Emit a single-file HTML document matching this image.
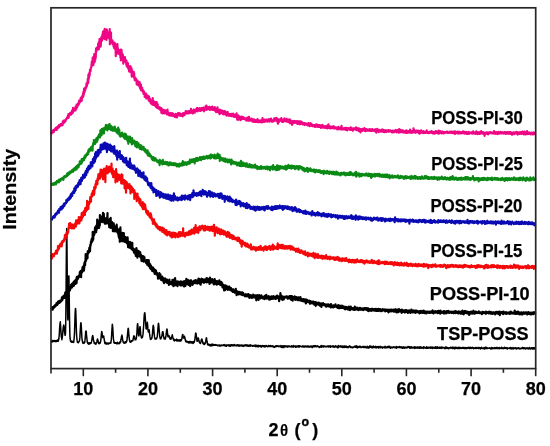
<!DOCTYPE html>
<html><head><meta charset="utf-8"><style>
html,body{margin:0;padding:0;background:#fff;width:550px;height:446px;overflow:hidden}
svg{display:block}
text{font-family:"Liberation Sans",Arial,sans-serif;font-weight:bold;fill:#000}
</style></head><body>
<svg width="550" height="446" viewBox="0 0 550 446">
<rect x="0" y="0" width="550" height="446" fill="#fff"/>
<g transform="scale(0.1)">
<path fill="none" stroke="#000" stroke-width="15" stroke-linejoin="round" d="M513,3416l2,-5 2,0 2,11 2,-11 2,7 2,-12 2,10 2,-7 2,1 2,3 2,-7 2,5 2,-2 2,5 2,-7 2,7 2,-8 2,0 2,5 2,-4 2,1 2,9 2,-10 2,-2 2,3 2,7 2,-10 2,6 2,-8 2,9 2,-13 2,3 2,-1 2,12 2,-3 2,-6 2,-10 2,-9 2,-20 2,-25 2,-36 2,-28 2,-26 2,-20 2,-12 2,27 2,30 2,31 2,28 2,32 2,7 2,12 2,12 2,-15 2,-10 2,-19 2,-18 2,-23 2,-26 2,-17 2,-10 2,-8 2,8 2,11 2,19 2,26 2,15 2,8 2,15 2,0 2,-31 2,-82 2,-148 2,-210 2,-272 2,-224 2,-100 2,94 2,227 2,257 2,206 2,118 2,11 2,-60 2,-132 2,-149 2,-99 2,1 2,112 2,150 2,148 2,107 2,78 2,32 2,8 2,15 2,5 2,-3 2,6 2,-8 2,12 2,-2 2,-1 2,1 2,-5 2,7 2,-4 2,-4 2,1 2,-1 2,-1 2,11 2,-23 2,-9 2,-32 2,-26 2,-64 2,-60 2,-69 2,-36 2,-21 2,12 2,51 2,60 2,68 2,53 2,34 2,23 2,19 2,12 2,5 2,-1 2,5 2,-5 2,8 2,-4 2,-4 2,-2 2,-1 2,-6 2,-4 2,-17 2,-16 2,-43 2,-30 2,-31 2,-34 2,-9 2,10 2,26 2,42 2,30 2,39 2,21 2,14 2,3 2,19 2,-4 2,0 2,-1 2,4 2,1 2,3 2,-2 2,-6 2,-9 2,7 2,-15 2,-19 2,-23 2,-25 2,-27 2,-5 2,0 2,10 2,29 2,19 2,18 2,17 2,21 2,-4 2,12 2,4 2,1 2,-6 2,-1 2,12 2,-14 2,8 2,1 2,1 2,2 2,-13 2,7 2,1 2,-1 2,-1 2,-3 2,2 2,-6 2,-7 2,-13 2,-6 2,-21 2,-12 2,-3 2,-9 2,8 2,3 2,20 2,17 2,5 2,8 2,9 2,9 2,-1 2,1 2,3 2,-6 2,4 2,-2 2,-3 2,13 2,-7 2,-11 2,4 2,-5 2,-7 2,-15 2,-6 2,-6 2,5 2,9 2,3 2,16 2,1 2,12 2,-1 2,-7 2,9 2,-3 2,-8 2,2 2,3 2,-3 2,-10 2,-10 2,-11 2,-21 2,-27 2,-17 2,-16 2,4 2,11 2,25 2,6 2,11 2,4 2,-8 2,-10 2,0 2,0 2,18 2,7 2,18 2,6 2,19 2,6 2,4 2,-6 2,-6 2,1 2,8 2,4 2,-4 2,5 2,-8 2,7 2,1 2,-4 2,-2 2,3 2,-4 2,-2 2,11 2,-3 2,0 2,-3 2,-3 2,1 2,1 2,-1 2,-4 2,2 2,2 2,-2 2,-10 2,8 2,-19 2,-11 2,-25 2,-34 2,-40 2,-25 2,-32 2,9 2,23 2,23 2,44 2,28 2,24 2,9 2,24 2,-3 2,5 2,1 2,-5 2,7 2,-4 2,2 2,3 2,-6 2,3 2,-1 2,3 2,-1 2,6 2,-8 2,-4 2,-2 2,3 2,5 2,6 2,-8 2,1 2,-1 2,3 2,2 2,-3 2,1 2,4 2,-17 2,13 2,-9 2,-2 2,0 2,-5 2,-23 2,2 2,-15 2,-16 2,-6 2,-8 2,13 2,6 2,16 2,20 2,2 2,14 2,1 2,0 2,6 2,-5 2,2 2,8 2,-8 2,2 2,-3 2,3 2,-8 2,-3 2,14 2,-7 2,0 2,-2 2,-4 2,-6 2,-5 2,-17 2,-17 2,-25 2,-21 2,-18 2,-23 2,-1 2,13 2,27 2,33 2,15 2,14 2,16 2,6 2,8 2,0 2,5 2,-5 2,5 2,-5 2,-5 2,-2 2,9 2,-6 2,0 2,-6 2,2 2,0 2,0 2,-1 2,-12 2,-7 2,-14 2,-13 2,-3 2,2 2,2 2,7 2,12 2,11 2,7 2,-4 2,2 2,-2 2,2 2,-11 2,-1 2,-18 2,-15 2,-22 2,-38 2,-32 2,-22 2,-1 2,24 2,26 2,33 2,25 2,13 2,1 2,-8 2,-12 2,-29 2,-25 2,-17 2,-1 2,21 2,22 2,31 2,16 2,3 2,14 2,5 2,0 2,-5 2,2 2,-3 2,-2 2,-13 2,-9 2,-18 2,-29 2,-27 2,-28 2,-34 2,-37 2,-27 2,-16 2,-5 2,2 2,23 2,31 2,25 2,30 2,23 2,26 2,2 2,-15 2,-8 2,-24 2,-7 2,-13 2,15 2,20 2,31 2,14 2,16 2,0 2,-10 2,-2 2,-10 2,16 2,20 2,13 2,16 2,12 2,10 2,10 2,-6 2,5 2,-6 2,1 2,0 2,-10 2,4 2,-17 2,-17 2,-10 2,-40 2,-12 2,-28 2,-4 2,9 2,10 2,31 2,24 2,18 2,23 2,9 2,3 2,9 2,-5 2,3 2,3 2,-7 2,6 2,0 2,-5 2,1 2,-11 2,-1 2,-8 2,-28 2,-18 2,-35 2,-17 2,-28 2,-7 2,11 2,19 2,30 2,23 2,24 2,21 2,10 2,8 2,10 2,-5 2,1 2,3 2,-6 2,-4 2,-9 2,-7 2,-2 2,-15 2,-12 2,-15 2,3 2,-4 2,9 2,12 2,23 2,9 2,9 2,5 2,6 2,-9 2,6 2,-6 2,-3 2,12 2,-9 2,-9 2,-7 2,-16 2,-17 2,-21 2,-13 2,-9 2,7 2,7 2,29 2,16 2,17 2,2 2,0 2,1 2,-4 2,-9 2,9 2,5 2,-2 2,15 2,1 2,8 2,-1 2,-9 2,8 2,4 2,-9 2,3 2,-9 2,-8 2,-11 2,4 2,-15 2,16 2,3 2,13 2,3 2,6 2,9 2,-6 2,12 2,-7 2,-4 2,16 2,-14 2,8 2,-3 2,1 2,2 2,-2 2,0 2,1 2,4 2,-8 2,-7 2,12 2,7 2,-4 2,-9 2,4 2,5 2,-8 2,1 2,3 2,8 2,-5 2,-2 2,-2 2,8 2,0 2,1 2,-9 2,-5 2,1 2,13 2,-2 2,-1 2,-4 2,-4 2,-4 2,-12 2,-13 2,-14 2,-6 2,-4 2,-1 2,12 2,10 2,14 2,-4 2,3 2,-10 2,-4 2,-4 2,8 2,7 2,16 2,-3 2,18 2,8 2,-11 2,13 2,-5 2,-3 2,11 2,-8 2,8 2,-4 2,2 2,2 2,-2 2,4 2,-4 2,10 2,-12 2,4 2,-1 2,0 2,-6 2,16 2,-9 2,1 2,2 2,-8 2,7 2,-3 2,5 2,-8 2,14 2,-7 2,-3 2,2 2,-2 2,4 2,-8 2,17 2,-16 2,2 2,11 2,-15 2,8 2,-11 2,8 2,-13 2,-3 2,-12 2,-20 2,-14 2,-19 2,-9 2,2 2,4 2,22 2,8 2,25 2,8 2,13 2,-3 2,-9 2,-3 2,-8 2,-11 2,1 2,6 2,11 2,11 2,8 2,5 2,2 2,5 2,3 2,-1 2,-6 2,11 2,-12 2,-3 2,-6 2,-16 2,0 2,-7 2,-1 2,8 2,12 2,6 2,1 2,16 2,2 2,-5 2,10 2,-6 2,2 2,-5 2,15 2,-9 2,-2 2,5 2,-5 2,-5 2,-7 2,-6 2,-16 2,-10 2,-13 2,1 2,15 2,16 2,2 2,18 2,11 2,3 2,5 2,1 2,-8 2,-1 2,8 2,0 2,3 2,-8 2,8 2,-1 2,-4 2,13 2,-15 2,9 2,-3 2,7 2,1 2,-6 2,-7 2,8 2,-4 2,-9 2,12 2,3 2,-9 2,-3 2,7 2,-1 2,0 2,4 2,-10 2,4 2,-1 2,0 2,5 2,-3 2,2 2,0 2,1 2,-6 2,5 2,-1 2,2 2,-3 2,3 2,-2 2,4 2,0 2,-3 2,6 2,-5 2,0 2,0 2,0 2,0 2,2 2,-3 2,9 2,-3 2,2 2,-9 2,2 2,9 2,-1 2,-6 2,0 2,-2 2,1 2,4 2,-8 2,1 2,5 2,-2 2,2 2,-1 2,2 2,-1 2,-6 2,6 2,-8 2,4 2,-1 2,-4 2,12 2,-3 2,-2 2,3 2,-1 2,-2 2,-3 2,12 2,-6 2,-5 2,12 2,-14 2,3 2,3 2,-2 2,-2 2,-1 2,2 2,1 2,-1 2,-1 2,-2 2,-2 2,15 2,-5 2,-6 2,8 2,-10 2,8 2,-6 2,12 2,-13 2,5 2,-7 2,7 2,-1 2,-5 2,6 2,-8 2,3 2,7 2,-1 2,-5 2,0 2,2 2,-3 2,1 2,8 2,-1 2,-12 2,6 2,-1 2,2 2,-1 2,3 2,-2 2,3 2,-7 2,4 2,-1 2,-1 2,2 2,7 2,-8 2,0 2,-4 2,-1 2,6 2,5 2,-2 2,-6 2,7 2,2 2,2 2,-3 2,-5 2,-2 2,5 2,3 2,-4 2,-2 2,5 2,-7 2,7 2,-2 2,0 2,-5 2,8 2,3 2,-9 2,6 2,-4 2,-2 2,4 2,7 2,-9 2,3 2,-5 2,-2 2,3 2,5 2,-1 2,-1 2,-2 2,3 2,-10 2,6 2,-4 2,6 2,3 2,-9 2,8 2,-2 2,0 2,4 2,-9 2,7 2,-2 2,-5 2,12 2,-2 2,-3 2,-1 2,-1 2,3 2,-8 2,4 2,7 2,-3 2,-8 2,-3 2,11 2,-2 2,-2 2,1 2,-3 2,4 2,-2 2,3 2,3 2,-3 2,-3 2,7 2,-2 2,2 2,-1 2,-4 2,-4 2,6 2,2 2,-1 2,-8 2,10 2,-11 2,6 2,5 2,4 2,-3 2,-10 2,13 2,-6 2,5 2,-11 2,6 2,0 2,4 2,-9 2,12 2,-8 2,-3 2,-1 2,12 2,-11 2,1 2,4 2,1 2,-5 2,3 2,-5 2,11 2,-8 2,9 2,-9 2,11 2,-10 2,12 2,-14 2,8 2,0 2,-5 2,0 2,-5 2,2 2,5 2,-3 2,4 2,3 2,-4 2,-4 2,6 2,-7 2,12 2,-7 2,3 2,-2 2,4 2,-5 2,-6 2,10 2,-6 2,-2 2,-3 2,6 2,2 2,3 2,-3 2,1 2,-2 2,4 2,-2 2,-8 2,5 2,-1 2,2 2,-4 2,4 2,-4 2,7 2,-1 2,1 2,-7 2,-2 2,7 2,-4 2,6 2,-2 2,0 2,-1 2,-3 2,2 2,5 2,-4 2,-3 2,0 2,3 2,6 2,-5 2,3 2,2 2,6 2,-5 2,-3 2,2 2,-3 2,4 2,-1 2,-4 2,-7 2,5 2,-5 2,6 2,2 2,0 2,-2 2,-6 2,6 2,-3 2,0 2,1 2,4 2,-2 2,3 2,-4 2,-1 2,1 2,-1 2,5 2,0 2,0 2,-4 2,0 2,3 2,-10 2,17 2,-6 2,0 2,-2 2,10 2,-11 2,-4 2,6 2,3 2,7 2,-11 2,-5 2,3 2,-1 2,4 2,9 2,-10 2,3 2,-6 2,-4 2,5 2,1 2,0 2,-3 2,8 2,-3 2,-5 2,1 2,1 2,5 2,-3 2,0 2,-4 2,6 2,5 2,-8 2,-2 2,0 2,4 2,-2 2,0 2,4 2,-7 2,5 2,-2 2,5 2,-4 2,0 2,1 2,-1 2,2 2,-6 2,-2 2,11 2,-5 2,4 2,-1 2,-4 2,-1 2,7 2,2 2,-17 2,11 2,1 2,-5 2,3 2,0 2,1 2,-1 2,3 2,-9 2,11 2,-3 2,7 2,-6 2,0 2,-4 2,4 2,2 2,-10 2,3 2,-1 2,3 2,1 2,0 2,-4 2,10 2,-13 2,4 2,-3 2,-1 2,12 2,-11 2,-1 2,3 2,4 2,-4 2,3 2,-1 2,0 2,0 2,1 2,0 2,4 2,1 2,-4 2,-1 2,-4 2,7 2,-2 2,4 2,-4 2,-4 2,-1 2,1 2,10 2,-9 2,2 2,6 2,-11 2,7 2,-5 2,4 2,2 2,-4 2,2 2,-1 2,-3 2,5 2,-2 2,6 2,-10 2,8 2,-5 2,-2 2,0 2,5 2,-2 2,-2 2,10 2,-7 2,4 2,-3 2,3 2,-2 2,-2 2,-4 2,5 2,-3 2,6 2,-8 2,1 2,6 2,-3 2,-2 2,13 2,-13 2,2 2,9 2,-15 2,4 2,1 2,-6 2,1 2,6 2,0 2,-2 2,5 2,-3 2,-4 2,-5 2,9 2,-1 2,-6 2,9 2,-4 2,0 2,-1 2,4 2,-7 2,6 2,-7 2,6 2,1 2,1 2,1 2,-2 2,2 2,-1 2,-2 2,0 2,11 2,-6 2,0 2,0 2,-4 2,5 2,-3 2,-6 2,6 2,-11 2,17 2,-11 2,4 2,-8 2,1 2,2 2,7 2,-3 2,-6 2,3 2,7 2,-10 2,3 2,7 2,-8 2,2 2,1 2,0 2,-2 2,6 2,0 2,-2 2,-2 2,2 2,-1 2,3 2,-4 2,0 2,-2 2,4 2,-1 2,-4 2,3 2,-4 2,8 2,2 2,-10 2,6 2,0 2,-1 2,-6 2,1 2,4 2,-2 2,-4 2,15 2,-12 2,0 2,3 2,0 2,0 2,-2 2,5 2,-2 2,-1 2,-4 2,6 2,-1 2,-6 2,11 2,-6 2,-4 2,6 2,3 2,-3 2,6 2,-1 2,-1 2,-8 2,3 2,0 2,-7 2,9 2,-5 2,1 2,6 2,-1 2,-5 2,1 2,7 2,-6 2,9 2,-7 2,13 2,-12 2,-13 2,7 2,9 2,-8 2,0 2,4 2,0 2,-1 2,-4 2,-3 2,10 2,-9 2,4 2,2 2,-7 2,2 2,9 2,1 2,-4 2,2 2,-6 2,12 2,-14 2,1 2,5 2,1 2,1 2,-4 2,11 2,-17 2,8 2,-1 2,5 2,-11 2,3 2,9 2,-6 2,-2 2,2 2,2 2,-3 2,-3 2,12 2,-1 2,-1 2,-4 2,2 2,-3 2,0 2,11 2,-8 2,-2 2,-1 2,-5 2,5 2,-7 2,9 2,-3 2,-6 2,10 2,-1 2,0 2,-1 2,6 2,-6 2,3 2,3 2,-1 2,2 2,-1 2,2 2,-5 2,1 2,4 2,-1 2,-5 2,-1 2,3 2,-1 2,-2 2,-5 2,4 2,2 2,0 2,2 2,-11 2,12 2,-5 2,5 2,-3 2,-3 2,0 2,-10 2,10 2,12 2,-8 2,1 2,3 2,2 2,-13 2,7 2,-3 2,-1 2,5 2,-4 2,0 2,0 2,4 2,-12 2,9 2,-2 2,1 2,0 2,8 2,1 2,-6 2,0 2,-1 2,1 2,1 2,-3 2,1 2,3 2,0 2,-10 2,7 2,5 2,-3 2,-4 2,1 2,6 2,-2 2,-7 2,-2 2,0 2,3 2,1 2,8 2,2 2,-6 2,3 2,-5 2,8 2,-8 2,-7 2,8 2,-5 2,9 2,-2 2,9 2,-12 2,7 2,-7 2,4 2,-3 2,6 2,-12 2,9 2,-17 2,6 2,8 2,2 2,-8 2,2 2,-1 2,8 2,-10 2,2 2,10 2,3 2,-10 2,4 2,-4 2,8 2,-8 2,-9 2,14 2,-1 2,-5 2,7 2,-3 2,2 2,-3 2,-3 2,5 2,-1 2,-1 2,-8 2,9 2,9 2,-6 2,2 2,-6 2,-3 2,4 2,0 2,-4 2,4 2,-6 2,-1 2,15 2,-3 2,-10 2,9 2,2 2,-6 2,0 2,0 2,-2 2,-7 2,11 2,-2 2,6 2,-9 2,5 2,-4 2,5 2,-1 2,-3 2,3 2,-3 2,9 2,-9 2,0 2,0 2,1 2,1 2,3 2,0 2,-7 2,2 2,1 2,3 2,4 2,-17 2,7 2,4 2,0 2,-3 2,7 2,0 2,-4 2,5 2,-6 2,-3 2,8 2,-9 2,0 2,1 2,2 2,-9 2,9 2,0 2,0 2,5 2,-1 2,0 2,-12 2,11 2,-1 2,3 2,7 2,-10 2,-1 2,-1 2,3 2,3 2,-6 2,3 2,0 2,3 2,-5 2,7 2,-9 2,-2 2,2 2,2 2,-3 2,-1 2,7 2,-5 2,2 2,4 2,-4 2,2 2,-3 2,7 2,0 2,-5 2,3 2,-10 2,16 2,-13 2,-2 2,2 2,2 2,-1 2,6 2,-2 2,-4 2,1 2,3 2,-1 2,2 2,-4 2,-1 2,4 2,-8 2,3 2,7 2,-5 2,0 2,5 2,-9 2,4 2,3 2,-2 2,7 2,-5 2,-4 2,4 2,9 2,-6 2,3 2,-11 2,12 2,-8 2,-2 2,7 2,-8 2,6 2,6 2,-4 2,1 2,-4 2,-3 2,5 2,1 2,-9 2,11 2,-8 2,7 2,-2 2,0 2,-5 2,3 2,-2 2,4 2,-12 2,7 2,-1 2,2 2,1 2,-7 2,-1 2,8 2,-7 2,8 2,7 2,-12 2,2 2,-1 2,6 2,4 2,-9 2,9 2,-14 2,6 2,4 2,0 2,-1 2,4 2,-4 2,4 2,-7 2,7 2,-4 2,0 2,-1 2,-2 2,-3 2,-2 2,16 2,-3 2,-2 2,-10 2,9 2,-1 2,4 2,-8 2,6 2,0 2,-7 2,3 2,4 2,-3 2,-6 2,11 2,1 2,-3 2,0 2,-1 2,-3 2,2 2,-10 2,16 2,-8 2,0 2,3 2,-1 2,2 2,-1 2,-11 2,5 2,10 2,-10 2,5 2,4 2,-1 2,-4 2,4 2,-4 2,1 2,-4 2,-1 2,7 2,-3 2,8 2,-16 2,2 2,9 2,-4 2,2 2,1 2,0 2,-1 2,-2 2,1 2,4 2,4 2,-5 2,-1 2,-10 2,11 2,0 2,2 2,-6 2,8 2,-11 2,2 2,6 2,-4 2,-3 2,3 2,-2 2,5 2,-2 2,-1 2,3 2,-3 2,-5 2,11 2,-4 2,-8 2,13 2,-6 2,-2 2,0 2,2 2,-6 2,0 2,13 2,-9 2,5 2,1 2,-4 2,3 2,-7 2,-1 2,10 2,-1 2,-2 2,-5 2,4 2,5 2,-9 2,1 2,-8 2,8 2,5 2,4 2,-10 2,-1 2,5 2,4 2,-14 2,14 2,-3 2,-3 2,6 2,-7 2,-1 2,7 2,-5 2,2 2,-6 2,11 2,-5 2,-1 2,-3 2,0 2,8 2,-4 2,-2 2,-6 2,5 2,-1 2,10 2,-12 2,4 2,-5 2,9 2,-4 2,1 2,0 2,-1 2,0 2,-1 2,3 2,-2 2,10 2,-5 2,-4 2,3 2,-3 2,9 2,-6 2,6 2,-18 2,16 2,-2 2,-8 2,1 2,3 2,2 2,-1 2,2 2,-7 2,7 2,-1 2,6 2,-7 2,9 2,-4 2,-2 2,-4 2,-1 2,1 2,0 2,3 2,-2 2,1 2,-8 2,9 2,-5 2,4 2,-5 2,2 2,6 2,-7 2,4 2,6 2,-8 2,-8 2,8 2,-1 2,3 2,4 2,-6 2,-2 2,2 2,10 2,-13 2,3 2,-3 2,7 2,-9 2,12 2,-4 2,-3 2,-4 2,5 2,2 2,-3 2,3 2,4 2,-5 2,-4 2,0 2,6 2,2 2,0 2,-11 2,7 2,-1 2,5 2,-8 2,2 2,6 2,-7 2,6 2,-9 2,7 2,-3 2,1 2,5 2,-5 2,3 2,-1 2,-2 2,4 2,-9 2,8 2,0 2,-7 2,3 2,-2 2,7 2,-3 2,-2 2,6 2,-2 2,2 2,-8 2,2 2,3 2,4 2,-7 2,4 2,0 2,4 2,-8 2,5 2,-1 2,-5 2,-2 2,4 2,0 2,0 2,5 2,-5 2,0 2,-5 2,1 2,5 2,0 2,-4 2,9 2,-2 2,-6 2,-5 2,9 2,-7 2,6 2,5 2,-1 2,-5 2,3 2,-3 2,3 2,-9 2,1 2,6 2,0 2,1 2,-4 2,7 2,2 2,-2 2,-2 2,0 2,0 2,-3 2,3 2,-3 2,-3 2,8 2,1 2,-9 2,4 2,4 2,-2 2,1 2,-8 2,3 2,4 2,-3 2,3 2,-2 2,-1 2,1 2,6 2,-8 2,-4 2,10 2,-7 2,4 2,-4 2,5 2,-3 2,-2 2,12 2,-6 2,1 2,-4 2,3 2,-2 2,-8 2,6 2,5 2,-1 2,-1 2,0 2,2 2,-1 2,4 2,-3 2,-7 2,7 2,-3 2,-7 2,6 2,10 2,-7 2,-1 2,-3 2,5 2,-1 2,-13 2,16 2,-3 2,-2 2,-3 2,1 2,7 2,-5 2,0 2,-1 2,4 2,-1 2,-1 2,0 2,1 2,-2 2,0 2,-3 2,2 2,1 2,3 2,-4 2,4 2,0 2,5 2,-4 2,0 2,-2 2,-3 2,-6 2,15 2,-1 2,-10 2,5 2,-1 2,-2 2,5 2,-2 2,2 2,-2 2,-4 2,3 2,-6 2,9 2,0 2,-6 2,5 2,-7 2,1 2,8 2,-9 2,3 2,-1 2,1 2,-4 2,-2 2,13 2,-9 2,7 2,-4 2,-1 2,1 2,2 2,-5 2,8 2,-4 2,5 2,-2 2,-9 2,8 2,-3 2,3 2,-2 2,2 2,-1 2,-3 2,1 2,-4 2,-5 2,14 2,-9 2,5 2,-5 2,2 2,3 2,2 2,-4 2,4 2,3 2,-3 2,-5 2,5 2,-8 2,-2 2,7 2,4 2,-4 2,-2 2,-1 2,2 2,-5 2,9 2,-1 2,1 2,-4 2,0 2,-2 2,3 2,9 2,-5 2,-2 2,-3 2,2 2,0 2,1 2,-1 2,0 2,-2 2,0 2,5 2,-2 2,-7 2,6 2,0 2,5 2,-11 2,15 2,-7 2,-4 2,3 2,-1 2,5 2,-8 2,7 2,2 2,-10 2,-2 2,7 2,0 2,6 2,-3 2,-1 2,-5 2,1 2,2 2,-5 2,5 2,-1 2,2 2,-1 2,-5 2,3 2,-1 2,8 2,3 2,-9 2,-3 2,1 2,0 2,2 2,-1 2,1 2,-1 2,-4 2,4 2,5 2,2 2,1 2,-5 2,0 2,3 2,-5 2,4 2,-1 2,2 2,1 2,-6 2,4 2,-1 2,-2 2,2 2,-5 2,-6 2,5 2,-3 2,7 2,-2 2,6 2,-9 2,6 2,-5 2,4 2,-6 2,5 2,4 2,-3 2,-3 2,4 2,6 2,-2 2,-6 2,-3 2,3 2,2 2,1 2,0 2,-1 2,-2 2,-3 2,-1 2,10 2,-5 2,2 2,5 2,0 2,-5 2,-3 2,-7 2,12 2,-5 2,3 2,-2 2,3 2,4 2,-3 2,-6 2,-2 2,2 2,5 2,-6 2,2 2,3 2,1 2,-8 2,13 2,-12 2,5 2,0 2,-6 2,6 2,-1 2,7 2,-6 2,-5 2,9 2,-8 2,2 2,2"/>
<path fill="none" stroke="#000000" stroke-width="22" stroke-linejoin="round" d="M513,3091l2,3 1,-8 2,-9 1,10 2,-5 2,14 1,-21 2,0 1,21 2,-24 2,10 1,-12 2,5 1,-2 2,8 2,-8 1,-1 2,-1 1,-13 2,4 2,-4 1,10 2,-16 1,-1 2,3 2,-1 1,7 2,-13 1,10 2,-3 2,-7 1,-7 2,-10 1,10 2,7 2,2 1,-5 2,2 1,-15 2,12 2,-7 1,-19 2,8 1,2 2,-2 2,-3 1,0 2,4 1,-13 2,-5 2,21 1,-10 2,-9 1,6 2,-6 2,2 1,8 2,-8 1,-2 2,4 2,-1 1,-12 2,6 1,-7 2,-1 2,-26 1,24 2,6 1,-11 2,-20 2,5 1,13 2,-27 1,7 2,8 2,-13 1,4 2,-11 1,20 2,-12 2,1 1,-7 2,-11 1,2 2,10 2,17 1,-52 2,8 1,4 2,-2 2,9 1,7 2,-15 1,-21 2,10 2,7 1,-21 2,3 1,-12 2,10 2,-2 1,1 2,-7 1,-46 2,40 2,14 1,-17 2,5 1,8 2,-15 2,-3 1,-2 2,8 1,-19 2,17 2,9 1,-33 2,15 1,-17 2,19 2,-17 1,-4 2,-17 1,15 2,-13 2,1 1,-9 2,14 1,-20 2,35 2,-11 1,-7 2,-4 1,10 2,-29 2,13 1,-6 2,11 1,-24 2,-7 2,39 1,-27 2,-17 1,17 2,-5 2,-8 1,-10 2,26 1,-30 2,17 2,19 1,-30 2,-2 1,21 2,-36 2,3 1,21 2,14 1,-54 2,-9 2,30 1,-2 2,-10 1,-16 2,-1 2,20 1,-25 2,4 1,13 2,-11 2,-6 1,-6 2,-1 1,-3 2,14 2,-12 1,6 2,-40 1,23 2,-5 2,11 1,-38 2,32 1,-12 2,26 2,12 1,-43 2,1 1,-23 2,-2 2,2 1,5 2,13 1,-6 2,-45 2,39 1,-17 2,4 1,-22 2,17 2,-12 1,-12 2,-16 1,52 2,-19 2,-14 1,-44 2,18 1,2 2,-31 2,33 1,-27 2,-13 1,-9 2,-61 2,67 1,0 2,-19 1,-20 2,-19 2,40 1,-26 2,1 1,8 2,-5 2,14 1,-48 2,-23 1,4 2,11 2,-16 1,22 2,-24 1,-2 2,12 2,2 1,-27 2,-18 1,14 2,-11 2,4 1,29 2,-43 1,-20 2,7 2,-1 1,-16 2,-23 1,18 2,-24 2,19 1,-33 2,-8 1,28 2,-17 2,-3 1,17 2,-31 1,-62 2,58 2,9 1,11 2,-39 1,-30 2,19 2,0 1,5 2,-12 1,-12 2,10 2,-21 1,6 2,-46 1,32 2,-15 2,-1 1,-5 2,-24 1,56 2,2 2,-27 1,9 2,-50 1,10 2,3 2,3 1,-74 2,89 1,-64 2,40 2,-52 1,21 2,-14 1,26 2,10 2,2 1,-7 2,0 1,33 2,-74 2,14 1,11 2,25 1,-105 2,65 2,-20 1,24 2,-19 1,3 2,-10 2,14 1,-8 2,-33 1,28 2,0 2,11 1,-22 2,37 1,-25 2,-23 2,5 1,28 2,-77 1,87 2,-10 2,7 1,-67 2,-8 1,24 2,30 2,22 1,-15 2,-13 1,50 2,-50 2,12 1,29 2,-28 1,24 2,-24 2,37 1,-43 2,-11 1,51 2,-19 2,-25 1,23 2,-37 1,21 2,32 2,-97 1,102 2,-11 1,2 2,3 2,-32 1,26 2,-20 1,2 2,13 2,20 1,36 2,-75 1,0 2,8 2,12 1,-29 2,18 1,42 2,32 2,-101 1,54 2,11 1,-2 2,16 2,-7 1,3 2,-10 1,2 2,-26 2,38 1,25 2,-21 1,6 2,43 2,-36 1,-5 2,-14 1,45 2,-68 2,27 1,-11 2,41 1,-31 2,54 2,-50 1,14 2,-6 1,27 2,-23 2,35 1,-22 2,-6 1,32 2,-8 2,-31 1,32 2,-44 1,-16 2,61 2,-2 1,-15 2,27 1,-33 2,45 2,-2 1,8 2,-19 1,12 2,-16 2,55 1,-55 2,-16 1,82 2,-51 2,4 1,-23 2,109 1,-91 2,-1 2,44 1,-96 2,74 1,-6 2,15 2,36 1,-39 2,-14 1,23 2,49 2,-48 1,-7 2,5 1,6 2,-40 2,15 1,43 2,-25 1,19 2,32 2,-43 1,35 2,-73 1,38 2,12 2,36 1,-42 2,4 1,15 2,-21 2,-3 1,19 2,32 1,-24 2,10 2,-14 1,-3 2,21 1,-34 2,20 2,5 1,-1 2,30 1,-8 2,-4 2,19 1,-64 2,60 1,-20 2,57 2,-53 1,-5 2,3 1,31 2,12 2,-32 1,-5 2,55 1,-54 2,9 2,30 1,5 2,-34 1,-13 2,59 2,-21 1,0 2,-15 1,23 2,-5 2,9 1,22 2,-28 1,-14 2,38 2,-60 1,65 2,-6 1,14 2,-19 2,12 1,10 2,-14 1,-2 2,20 2,-18 1,36 2,-25 1,3 2,22 2,-19 1,21 2,1 1,-15 2,-9 2,43 1,-54 2,66 1,-46 2,1 2,5 1,-39 2,12 1,13 2,10 2,4 1,7 2,50 1,-30 2,8 2,-38 1,13 2,10 1,-31 2,43 2,6 1,-10 2,-27 1,23 2,-27 2,17 1,29 2,-8 1,0 2,-35 2,13 1,35 2,-24 1,32 2,-14 2,-11 1,1 2,28 1,29 2,-39 2,1 1,9 2,-12 1,5 2,-11 2,11 1,30 2,-2 1,10 2,-11 2,17 1,-53 2,17 1,16 2,-13 2,6 1,-20 2,42 1,-1 2,0 2,-5 1,7 2,-2 1,1 2,11 2,-18 1,14 2,13 1,-7 2,8 2,-31 1,37 2,-6 1,13 2,-44 2,27 1,10 2,-7 1,-2 2,-6 2,19 1,15 2,-33 1,-24 2,34 2,26 1,3 2,0 1,-10 2,-17 2,42 1,-25 2,-6 1,-2 2,23 2,20 1,-17 2,-14 1,6 2,21 2,-6 1,-5 2,23 1,6 2,-28 2,-2 1,39 2,-5 1,1 2,-20 2,-13 1,31 2,-3 1,1 2,1 2,-14 1,14 2,-13 1,35 2,-2 2,13 1,-39 2,30 1,-30 2,36 2,-16 1,6 2,1 1,-22 2,25 2,-3 1,4 2,17 1,0 2,-21 2,14 1,7 2,3 1,-2 2,0 2,15 1,24 2,-28 1,-7 2,5 2,1 1,-4 2,5 1,7 2,-34 2,47 1,4 2,-20 1,14 2,-23 2,10 1,-21 2,30 1,8 2,0 2,19 1,-24 2,-6 1,32 2,-34 2,12 1,-1 2,-14 1,8 2,14 2,-1 1,13 2,4 1,3 2,-17 2,30 1,-35 2,30 1,-28 2,46 2,-24 1,5 2,-8 1,-7 2,-12 2,-1 1,19 2,-10 1,11 2,12 2,-16 1,1 2,-6 1,27 2,-3 2,-14 1,-3 2,-7 1,33 2,-24 2,12 1,-3 2,-10 1,15 2,0 2,-2 1,2 2,-4 1,5 2,30 2,-38 1,13 2,-30 1,37 2,-3 2,-11 1,13 2,3 1,4 2,-14 2,12 1,-11 2,1 1,-5 2,20 2,-11 1,3 2,-6 1,-1 2,3 2,17 1,-47 2,26 1,14 2,3 2,-8 1,-5 2,33 1,-35 2,16 2,5 1,-51 2,32 1,14 2,-7 2,19 1,-7 2,-4 1,-64 2,55 2,8 1,-1 2,-17 1,8 2,1 2,-4 1,12 2,9 1,-17 2,17 2,-38 1,14 2,15 1,20 2,-23 2,8 1,-15 2,11 1,-13 2,6 2,-20 1,29 2,-18 1,7 2,3 2,-6 1,-11 2,16 1,10 2,-22 2,30 1,-16 2,6 1,-20 2,-11 2,9 1,13 2,17 1,-5 2,8 2,-20 1,-7 2,16 1,-3 2,-19 2,15 1,-10 2,13 1,-6 2,-2 2,-18 1,15 2,34 1,-34 2,-2 2,38 1,-13 2,-6 1,-24 2,-10 2,40 1,-15 2,22 1,-24 2,-6 2,1 1,-4 2,17 1,-54 2,43 2,-19 1,22 2,6 1,-33 2,17 2,1 1,5 2,7 1,-40 2,13 2,26 1,-10 2,18 1,4 2,-14 2,-18 1,19 2,11 1,-38 2,26 2,-7 1,6 2,27 1,-57 2,19 2,21 1,-26 2,6 1,-20 2,16 2,12 1,-21 2,19 1,4 2,1 2,7 1,6 2,-21 1,2 2,-3 2,-3 1,2 2,11 1,-3 2,-20 2,-4 1,21 2,-20 1,3 2,17 2,-23 1,20 2,-8 1,-1 2,13 2,-22 1,19 2,-28 1,23 2,-15 2,-2 1,7 2,11 1,1 2,-16 2,24 1,2 2,-15 1,-4 2,-8 2,22 1,-4 2,-20 1,-13 2,-6 2,23 1,8 2,-30 1,30 2,-1 2,11 1,8 2,-14 1,-18 2,21 2,-13 1,-17 2,39 1,12 2,-36 2,-1 1,-3 2,-17 1,-2 2,4 2,16 1,14 2,-2 1,-27 2,-1 2,4 1,16 2,0 1,-2 2,-3 2,9 1,-14 2,3 1,24 2,-26 2,2 1,-6 2,-4 1,12 2,0 2,14 1,-1 2,-5 1,-6 2,10 2,-17 1,20 2,-11 1,-8 2,-21 2,43 1,-20 2,4 1,13 2,0 2,-27 1,-7 2,18 1,-7 2,4 2,-2 1,4 2,6 1,-8 2,7 2,11 1,-2 2,-29 1,50 2,-38 2,3 1,-27 2,31 1,12 2,-15 2,11 1,-10 2,-8 1,29 2,-13 2,6 1,-14 2,-5 1,19 2,-9 2,-21 1,22 2,-11 1,10 2,14 2,-16 1,12 2,5 1,6 2,9 2,3 1,-24 2,9 1,-21 2,14 2,-31 1,20 2,0 1,5 2,1 2,8 1,3 2,-13 1,25 2,-30 2,8 1,-3 2,31 1,-29 2,6 2,14 1,-26 2,11 1,-6 2,25 2,-19 1,13 2,-4 1,6 2,-8 2,7 1,3 2,-3 1,-11 2,-21 2,38 1,-5 2,0 1,0 2,-2 2,8 1,8 2,-9 1,-24 2,20 2,-10 1,16 2,6 1,-28 2,19 2,14 1,-6 2,5 1,-21 2,41 2,-25 1,14 2,-5 1,2 2,6 2,-15 1,1 2,35 1,-24 2,42 2,-27 1,-15 2,-1 1,-5 2,4 2,40 1,-24 2,-23 1,22 2,-13 2,11 1,0 2,-16 1,5 2,-2 2,28 1,-24 2,5 1,-2 2,7 2,1 1,-3 2,25 1,-32 2,12 2,-4 1,19 2,-4 1,-1 2,-10 2,2 1,1 2,-14 1,28 2,-14 2,12 1,-5 2,2 1,12 2,-16 2,-2 1,-4 2,15 1,-13 2,11 2,14 1,-7 2,-2 1,-8 2,5 2,16 1,-9 2,0 1,18 2,-5 2,-10 1,-12 2,0 1,12 2,8 2,-4 1,0 2,11 1,-2 2,-7 2,16 1,-16 2,-1 1,5 2,-4 2,8 1,6 2,-36 1,31 2,1 2,5 1,-9 2,35 1,-34 2,10 2,-9 1,-6 2,21 1,-8 2,-6 2,8 1,-7 2,11 1,1 2,10 2,-9 1,-15 2,20 1,-6 2,4 2,-8 1,-9 2,14 1,8 2,-17 2,-1 1,3 2,5 1,11 2,-16 2,5 1,-3 2,16 1,-5 2,7 2,-19 1,-4 2,23 1,-9 2,14 2,-19 1,11 2,-7 1,-9 2,6 2,5 1,2 2,4 1,5 2,1 2,-2 1,-1 2,7 1,6 2,-14 2,-4 1,6 2,6 1,1 2,-11 2,-1 1,4 2,5 1,10 2,-18 2,12 1,-4 2,7 1,-17 2,11 2,8 1,-1 2,-13 1,5 2,-9 2,10 1,-13 2,26 1,-13 2,4 2,-5 1,5 2,21 1,-29 2,4 2,5 1,-6 2,0 1,13 2,2 2,-17 1,6 2,6 1,9 2,-2 2,-3 1,12 2,-15 1,-2 2,-6 2,13 1,8 2,-12 1,-1 2,4 2,-21 1,21 2,0 1,-2 2,-6 2,9 1,-6 2,-4 1,14 2,-14 2,-5 1,10 2,5 1,-16 2,1 2,4 1,22 2,-6 1,-15 2,5 2,39 1,-28 2,-13 1,5 2,1 2,6 1,-24 2,20 1,-16 2,27 2,-7 1,-5 2,-1 1,-5 2,36 2,-37 1,12 2,-6 1,-16 2,26 2,-2 1,-7 2,-1 1,10 2,-4 2,10 1,-20 2,-4 1,7 2,7 2,-3 1,3 2,-21 1,7 2,10 2,0 1,1 2,0 1,10 2,-5 2,-8 1,0 2,2 1,5 2,9 2,-3 1,-9 2,-2 1,-5 2,2 2,-1 1,25 2,-27 1,8 2,-14 2,8 1,19 2,-4 1,-18 2,17 2,-18 1,21 2,-8 1,-26 2,38 2,-8 1,-1 2,6 1,-10 2,-2 2,-6 1,19 2,-11 1,4 2,0 2,5 1,-4 2,-8 1,-10 2,21 2,-5 1,19 2,-16 1,-8 2,5 2,-5 1,12 2,3 1,6 2,-25 2,18 1,-6 2,1 1,-5 2,-12 2,17 1,-16 2,12 1,-5 2,18 2,-9 1,-7 2,-2 1,-6 2,10 2,1 1,9 2,-8 1,-16 2,24 2,-16 1,14 2,-16 1,6 2,-2 2,0 1,3 2,7 1,-7 2,-5 2,20 1,-25 2,11 1,13 2,-25 2,10 1,6 2,-5 1,3 2,-11 2,7 1,-18 2,15 1,1 2,4 2,-3 1,12 2,-20 1,8 2,10 2,-18 1,20 2,-1 1,27 2,-45 2,15 1,-17 2,4 1,5 2,-14 2,10 1,-38 2,39 1,7 2,-4 2,-9 1,7 2,3 1,21 2,-36 2,15 1,-2 2,-3 1,19 2,-10 2,20 1,-21 2,-4 1,-5 2,1 2,7 1,6 2,13 1,-22 2,-6 2,7 1,-3 2,9 1,0 2,-8 2,4 1,-1 2,0 1,-3 2,-7 2,6 1,-2 2,2 1,-4 2,8 2,-9 1,-1 2,11 1,1 2,1 2,-12 1,20 2,-13 1,9 2,-9 2,3 1,-1 2,9 1,-15 2,2 2,0 1,-8 2,13 1,-3 2,-13 2,2 1,23 2,-5 1,1 2,-8 2,-11 1,12 2,2 1,22 2,-17 2,-13 1,25 2,-31 1,18 2,6 2,-13 1,15 2,-5 1,23 2,-37 2,15 1,-9 2,0 1,5 2,1 2,-11 1,14 2,-9 1,-7 2,-3 2,24 1,-11 2,1 1,5 2,15 2,-30 1,13 2,9 1,-17 2,15 2,-2 1,-4 2,-2 1,0 2,-9 2,7 1,19 2,1 1,2 2,-14 2,1 1,4 2,-4 1,8 2,-6 2,-16 1,28 2,-25 1,14 2,7 2,4 1,-9 2,8 1,-1 2,-13 2,12 1,-29 2,35 1,-16 2,18 2,-11 1,-10 2,4 1,11 2,-2 2,0 1,3 2,8 1,-13 2,9 2,-1 1,-11 2,-2 1,10 2,12 2,-7 1,-16 2,9 1,1 2,0 2,-3 1,9 2,3 1,-10 2,8 2,-14 1,8 2,11 1,13 2,-23 2,32 1,-26 2,6 1,7 2,-25 2,14 1,11 2,-24 1,9 2,0 2,3 1,0 2,3 1,-6 2,6 2,0 1,8 2,-6 1,-5 2,11 2,-10 1,-6 2,16 1,0 2,7 2,9 1,-12 2,8 1,-21 2,23 2,-21 1,6 2,14 1,-12 2,-1 2,5 1,-4 2,0 1,1 2,-7 2,0 1,9 2,0 1,-5 2,15 2,-12 1,-4 2,11 1,-13 2,10 2,-7 1,3 2,23 1,-13 2,-2 2,6 1,-1 2,2 1,-11 2,21 2,-28 1,20 2,18 1,-33 2,15 2,6 1,-12 2,1 1,-9 2,9 2,2 1,-9 2,6 1,2 2,-2 2,9 1,-6 2,1 1,-6 2,1 2,-8 1,15 2,5 1,5 2,-4 2,-5 1,-8 2,23 1,-8 2,-9 2,0 1,5 2,-2 1,3 2,-5 2,-6 1,11 2,24 1,-21 2,-3 2,3 1,-8 2,12 1,-4 2,4 2,-6 1,4 2,-8 1,-10 2,14 2,5 1,-4 2,2 1,0 2,-3 2,-3 1,0 2,4 1,-5 2,5 2,2 1,-3 2,8 1,7 2,-7 2,11 1,-13 2,14 1,-12 2,3 2,-2 1,-9 2,-2 1,13 2,-1 2,-1 1,7 2,-13 1,11 2,-6 2,-11 1,15 2,3 1,2 2,-1 2,-12 1,2 2,8 1,-3 2,8 2,-16 1,19 2,2 1,-13 2,11 2,7 1,-16 2,-3 1,-15 2,12 2,10 1,-10 2,10 1,6 2,2 2,-13 1,1 2,-2 1,8 2,2 2,5 1,-9 2,11 1,-9 2,-11 2,7 1,3 2,5 1,0 2,-13 2,5 1,3 2,-2 1,4 2,1 2,-24 1,24 2,0 1,-1 2,-5 2,7 1,-4 2,1 1,3 2,4 2,-6 1,-7 2,9 1,-7 2,18 2,-10 1,1 2,-5 1,-15 2,31 2,-17 1,0 2,6 1,-1 2,4 2,2 1,3 2,3 1,-26 2,15 2,-2 1,-8 2,20 1,-7 2,-5 2,6 1,3 2,0 1,-2 2,-5 2,2 1,-16 2,22 1,-10 2,10 2,1 1,-3 2,-7 1,-1 2,5 2,-9 1,10 2,5 1,-1 2,1 2,3 1,-13 2,9 1,14 2,-12 2,-8 1,2 2,8 1,4 2,7 2,-24 1,14 2,-3 1,-1 2,-8 2,14 1,1 2,-9 1,3 2,-5 2,4 1,-1 2,1 1,7 2,10 2,-26 1,8 2,5 1,1 2,-17 2,22 1,-8 2,-6 1,9 2,10 2,-7 1,15 2,-28 1,-2 2,11 2,-17 1,20 2,-8 1,-5 2,10 2,1 1,6 2,-3 1,-2 2,-5 2,15 1,-10 2,-1 1,-4 2,9 2,-6 1,11 2,-6 1,-3 2,-3 2,3 1,-1 2,16 1,-21 2,10 2,-6 1,-18 2,12 1,10 2,-2 2,-11 1,9 2,13 1,-8 2,1 2,2 1,-9 2,9 1,1 2,-8 2,-1 1,1 2,-7 1,17 2,2 2,-9 1,3 2,-3 1,2 2,-5 2,17 1,-5 2,-8 1,-1 2,7 2,3 1,-12 2,-7 1,10 2,8 2,-4 1,0 2,3 1,-7 2,-2 2,9 1,2 2,-5 1,-2 2,-4 2,-1 1,5 2,5 1,-3 2,1 2,-3 1,-3 2,-2 1,17 2,-14 2,7 1,-2 2,4 1,-7 2,6 2,-16 1,9 2,2 1,-8 2,1 2,5 1,4 2,-12 1,7 2,0 2,3 1,3 2,1 1,-12 2,16 2,-5 1,-13 2,10 1,10 2,-7 2,-1 1,0 2,-4 1,6 2,-12 2,28 1,-7 2,-15 1,10 2,-5 2,5 1,-9 2,16 1,-15 2,7 2,9 1,-16 2,3 1,5 2,2 2,-7 1,5 2,-3 1,-7 2,11 2,8 1,-15 2,-1 1,11 2,-14 2,4 1,2 2,-5 1,12 2,1 2,-1 1,-3 2,3 1,-9 2,2 2,-4 1,13 2,-7 1,-4 2,7 2,-8 1,15 2,-1 1,-7 2,-4 2,0 1,2 2,11 1,-20 2,8 2,-5 1,17 2,-13 1,3 2,1 2,-9 1,4 2,7 1,8 2,-11 2,8 1,-3 2,-14 1,19 2,-10 2,2 1,5 2,-7 1,0 2,0 2,5 1,-13 2,1 1,11 2,-6 2,15 1,-11 2,6 1,-12 2,9 2,-1 1,-2 2,1 1,0 2,-1 2,-4 1,15 2,-9 1,-1 2,-8 2,9 1,-10 2,7 1,3 2,-3 2,4 1,-2 2,3 1,-6 2,-2 2,3 1,6 2,-1 1,-8 2,5 2,3 1,10 2,-9 1,-8 2,5 2,-3 1,-3 2,9 1,2 2,-8 2,6 1,3 2,-1 1,-4 2,-2 2,1 1,4 2,8 1,-18 2,1 2,10 1,-3 2,19 1,-20 2,-2 2,11 1,2 2,-13 1,-3 2,3 2,6 1,0 2,0 1,-9 2,9 2,-1 1,8 2,-6 1,7 2,-20 2,16 1,0 2,-2 1,0 2,-2 2,-8 1,4 2,6 1,-4 2,1 2,6 1,-1 2,4 1,-4 2,-3 2,-13 1,7 2,9 1,-9 2,7 2,-9 1,14 2,3 1,-10 2,1 2,-14 1,-2 2,22 1,-4 2,-6 2,4 1,-1 2,16 1,-13 2,0 2,-8 1,12 2,-9 1,-8 2,7 2,8 1,-9 2,4 1,15 2,-6 2,-6 1,-5 2,-15 1,20 2,-9 2,13 1,-6 2,-9 1,14 2,0 2,-8 1,9 2,-5 1,4 2,-10 2,7 1,-7 2,-4 1,9 2,20 2,-32 1,11 2,-2 1,2 2,7 2,-3 1,-3 2,3 1,-4 2,12 2,-13 1,8 2,-7 1,7 2,0 2,0 1,-1 2,-4 1,-6 2,23 2,-9 1,-13 2,10 1,-11 2,1 2,3 1,-6 2,3 1,15 2,-11 2,5 1,-10 2,11 1,-8 2,13 2,-13 1,6 2,18 1,-14 2,2 2,-7 1,8 2,-2 1,-5 2,2 2,-1 1,-9 2,9 1,11 2,-16 2,4 1,1 2,2 1,1 2,12 2,-18 1,7 2,-1 1,-1 2,-20 2,26 1,1 2,-3 1,-13 2,8 2,5 1,-2 2,1 1,-1 2,8 2,-21 1,2 2,3 1,8 2,-5 2,-3 1,1 2,7 1,0 2,-5 2,11 1,-16 2,13 1,-8 2,-7 2,16 1,7 2,-19 1,4 2,5 2,-8 1,9 2,-3 1,-9 2,11 2,-3 1,3 2,1 1,0 2,-7 2,8 1,-6 2,3 1,8 2,-4 2,-2 1,-2 2,-2 1,3 2,-6 2,21 1,-17 2,1 1,-4 2,11 2,-4 1,2 2,-5 1,12 2,-20 2,8 1,-1 2,4 1,6 2,-11 2,6 1,-3 2,-1 1,0 2,-7 2,5 1,15 2,-10 1,-5 2,-4 2,5 1,-9 2,13 1,-7 2,4 2,-4 1,1 2,8 1,9 2,-16 2,4 1,2 2,-4 1,-2 2,6 2,-3 1,3 2,10 1,3 2,-8 2,-8 1,-1 2,2 1,2 2,0 2,-2 1,-1 2,0 1,-2 2,4 2,8 1,-8 2,0 1,4 2,1 2,-7 1,5 2,-5 1,10 2,-13 2,8 1,-2 2,8 1,-7 2,1 2,-4 1,6 2,-9 1,2 2,-1 2,7 1,0 2,-5 1,-8 2,18 2,-17 1,-3 2,-4 1,20 2,-6 2,-2 1,5 2,-2 1,14 2,-6 2,-9 1,1 2,4 1,-11 2,8 2,-2 1,-2 2,2 1,7 2,-13 2,9 1,-9 2,7 1,1 2,3 2,-5 1,5 2,-3 1,-4 2,0 2,-1 1,2 2,-6 1,19 2,-15 2,6 1,-6 2,6 1,5 2,-18 2,16 1,-6 2,3 1,3 2,4 2,-14 1,7 2,12 1,-12 2,1 2,14 1,-30 2,20 1,-13 2,2 2,12 1,-3 2,-2 1,3 2,-5 2,0 1,-3 2,8 1,-9 2,8 2,-1 1,-5 2,2 1,-3 2,10 2,5 1,-9 2,-2 1,-10 2,22 2,0 1,-17 2,4 1,12 2,-19 2,3 1,13 2,1 1,-11 2,0 2,4 1,6 2,-7 1,10 2,-6 2,-15 1,9 2,1 1,6 2,-7 2,-8 1,-1 2,4 1,-1 2,10 2,-12 1,-3 2,15 1,-1 2,3 2,0 1,2 2,-13 1,2 2,2 2,6 1,-6 2,3 1,-2 2,2 2,-4 1,4 2,-6 1,-1 2,7 2,5 1,-3 2,1 1,-6 2,9 2,-5 1,-1 2,2 1,-2 2,-6 2,8 1,2 2,2 1,0 2,2 2,-5 1,-1 2,-8 1,6 2,-7 2,7 1,2 2,0 1,-15 2,22 2,-10 1,0 2,-2 1,2 2,8 2,-10 1,-5 2,12 1,-11 2,0 2,7 1,-2 2,3 1,-4 2,6 2,4 1,3 2,-11 1,4 2,8 2,-19 1,-1 2,9 1,1 2,-8 2,10 1,6 2,-6 1,0 2,-2 2,-1 1,9 2,-9 1,-5 2,11 2,9 1,-19 2,5 1,1 2,5 2,-1 1,-3 2,5 1,5 2,-29 2,13 1,11 2,-10 1,8 2,-8 2,3 1,19 2,-19 1,-1 2,2 2,0 1,-3 2,-11 1,20 2,-14 2,9 1,-6 2,-9 1,18 2,-7 2,-4 1,0 2,-3 1,17 2,-1 2,-6 1,7 2,-5 1,-7 2,13 2,-15 1,3 2,2 1,-4 2,1 2,1 1,13 2,-8 1,-6 2,10 2,19 1,-27 2,6 1,3 2,-4 2,-4 1,4 2,10 1,-18 2,5 2,0 1,-3 2,-2 1,2 2,-4 2,18 1,-5 2,-9 1,-1 2,17 2,-1 1,-4 2,-12 1,-1 2,13 2,-9 1,-8 2,-8 1,26 2,-4 2,-6 1,-4 2,10 1,-7 2,3 2,12 1,-8 2,-3 1,-9 2,16 2,-5 1,-3 2,4 1,-11 2,5 2,5 1,-9 2,10 1,-8 2,6 2,0 1,3 2,-4 1,3 2,0 2,1 1,-1 2,-3 1,3 2,-11 2,2 1,-7 2,14 1,-1 2,1 2,4 1,-1 2,2 1,-3 2,-2 2,-3 1,4 2,-1 1,3 2,-5 2,1 1,-1 2,2 1,3 2,-3 2,14 1,-20 2,4 1,-4 2,11 2,-13 1,13 2,-5 1,-3 2,7 2,-4 1,-5 2,3 1,1 2,2 2,-3 1,1 2,2 1,-3 2,-2 2,0 1,9 2,-2 1,4 2,-6 2,10 1,-21 2,14 1,-7 2,0 2,5 1,-1 2,-7 1,7 2,-1 2,1 1,2 2,0 1,-5 2,2 2,-2 1,-4 2,7 1,7 2,-9 2,8 1,-19 2,5 1,0 2,9 2,-10 1,4 2,3 1,2 2,3 2,2 1,-13 2,16 1,2 2,-5 2,-8 1,4 2,-6 1,9 2,-5 2,1 1,4 2,-6 1,14 2,-8 2,-9 1,0 2,5 1,3 2,-3 2,4 1,-6 2,9 1,-9 2,0 2,5 1,-2 2,1 1,13 2,-10 2,-4 1,5 2,-9 1,-4 2,-1 2,-2 1,10 2,1 1,-5 2,9 2,-7 1,-2 2,1 1,0 2,3 2,-10 1,15 2,6 1,-13 2,-2 2,1 1,15 2,-18 1,12 2,-3 2,-16 1,14 2,22 1,-27 2,10 2,-10 1,8 2,-2 1,0 2,2 2,-11 1,10 2,-2 1,3 2,-3 2,0 1,3 2,-13 1,11 2,-9 2,0 1,7 2,-4 1,18 2,-9 2,-4 1,-13 2,11 1,5 2,-8 2,4 1,-2 2,7 1,0 2,1 2,-3 1,-7 2,0 1,9 2,-5 2,3 1,-10 2,14 1,4 2,-8 2,-4 1,6 2,-4 1,-1 2,5 2,-1 1,-5 2,3 1,-5 2,2 2,2 1,5 2,-7 1,-1 2,7 2,0 1,-9 2,15 1,-8 2,-5 2,-3 1,6 2,6 1,1 2,-6 2,-15 1,12 2,-9 1,17 2,-4 2,-5 1,0 2,3 1,6 2,-2 2,0 1,-2 2,0 1,-5 2,2 2,6 1,-3 2,-3 1,6 2,-2 2,1 1,4 2,-7 1,4 2,-10 2,-19 1,28 2,-10 1,-2 2,5 2,13 1,-2 2,-5 1,0 2,8 2,-10 1,2 2,1 1,1 2,-15 2,16 1,-9 2,7 1,2 2,-2 2,4 1,-20 2,9 1,-1 2,15 2,-14 1,1 2,1 1,6 2,6 2,-13 1,18 2,-20 1,1 2,8 2,-6 1,1 2,4 1,-7 2,4 2,2 1,-9 2,22 1,-18 2,4 2,2 1,2 2,-2 1,8 2,3 2,-8 1,-10 2,7 1,5 2,-7 2,-8 1,0 2,6 1,-5 2,10 2,2 1,-6 2,0 1,0 2,6 2,-6 1,-4 2,3 1,1 2,-5 2,1 1,5 2,0 1,-7 2,12 2,-3 1,4 2,-1 1,9 2,-16 2,9 1,1 2,0 1,-15 2,4 2,-2 1,3 2,-8 1,17 2,-5 2,1 1,-2 2,2 1,5 2,-3 2,6 1,-8 2,2 1,-3 2,10 2,-14 1,-4 2,11 1,1 2,7 2,-13 1,2 2,-4 1,6 2,3 2,-7 1,-3 2,7 1,-10 2,10 2,6 1,-12 2,13 1,-3 2,-6 2,4 1,-16 2,3 1,6 2,5 2,-2 1,-5 2,5 1,-4 2,8"/>
<path fill="none" stroke="#F5080A" stroke-width="22" stroke-linejoin="round" d="M513,2581l2,-26 1,13 2,19 1,-14 2,3 2,-35 1,24 2,-16 1,1 2,3 2,1 1,-1 2,-8 1,1 2,0 2,8 1,7 2,-19 1,2 2,-8 2,-1 1,1 2,4 1,-9 2,6 2,-1 1,-6 2,-13 1,-8 2,1 2,4 1,-4 2,-7 1,10 2,23 2,-26 1,-1 2,5 1,-9 2,-5 2,-10 1,-28 2,17 1,17 2,-13 2,-2 1,-7 2,-3 1,13 2,-13 2,-7 1,1 2,-11 1,-10 2,14 2,4 1,-7 2,5 1,-8 2,9 2,-21 1,21 2,-34 1,4 2,32 2,-22 1,-20 2,17 1,-27 2,9 2,-6 1,0 2,1 1,-4 2,8 2,-11 1,-3 2,-4 1,-3 2,-7 2,17 1,-22 2,-4 1,6 2,-37 2,29 1,3 2,7 1,-19 2,-3 2,12 1,-11 2,-19 1,-17 2,16 2,19 1,-35 2,8 1,3 2,-28 2,24 1,-23 2,6 1,8 2,-9 2,-11 1,-16 2,-9 1,-17 2,1 2,-33 1,1 2,8 1,14 2,-9 2,-1 1,-7 2,-12 1,23 2,26 2,-7 1,-17 2,9 1,0 2,-22 2,19 1,-4 2,27 1,-20 2,-4 2,-5 1,3 2,-14 1,25 2,-17 2,16 1,0 2,14 1,-20 2,-5 2,-2 1,21 2,6 1,-22 2,6 2,-27 1,2 2,4 1,-8 2,18 2,-14 1,-15 2,39 1,-24 2,-39 2,9 1,37 2,-7 1,-24 2,13 2,0 1,-15 2,-9 1,16 2,-9 2,3 1,-18 2,29 1,-14 2,2 2,19 1,-65 2,27 1,17 2,20 2,-29 1,-9 2,-10 1,29 2,-39 2,10 1,3 2,-17 1,13 2,-7 2,1 1,-14 2,40 1,-37 2,-37 2,31 1,3 2,15 1,-13 2,-20 2,5 1,-11 2,23 1,-17 2,-23 2,-7 1,35 2,-4 1,-8 2,-17 2,16 1,-25 2,-11 1,18 2,28 2,-54 1,-13 2,24 1,0 2,4 2,-14 1,17 2,-15 1,-7 2,13 2,-39 1,-7 2,41 1,-91 2,31 2,35 1,-33 2,-2 1,28 2,-21 2,28 1,16 2,-70 1,12 2,-6 2,18 1,-3 2,-8 1,-13 2,-2 2,6 1,-21 2,-31 1,22 2,-11 2,0 1,31 2,1 1,-33 2,-11 2,0 1,-20 2,-17 1,15 2,5 2,-18 1,2 2,20 1,-38 2,-11 2,18 1,6 2,5 1,-26 2,8 2,-10 1,38 2,-76 1,63 2,-48 2,13 1,-19 2,-13 1,-2 2,-9 2,-16 1,37 2,-28 1,-13 2,-12 2,-16 1,11 2,24 1,-30 2,16 2,-8 1,0 2,21 1,-52 2,-8 2,-5 1,3 2,20 1,-57 2,43 2,-44 1,43 2,-44 1,7 2,26 2,10 1,-25 2,2 1,24 2,-30 2,-36 1,58 2,-83 1,31 2,-13 2,41 1,6 2,-47 1,51 2,-46 2,-20 1,40 2,-32 1,34 2,-37 2,18 1,20 2,-25 1,78 2,-90 2,46 1,-30 2,48 1,-36 2,-45 2,13 1,-1 2,5 1,1 2,-2 2,2 1,42 2,74 1,-135 2,5 2,24 1,-24 2,-9 1,20 2,-14 2,-26 1,34 2,-19 1,43 2,-39 2,54 1,-18 2,-41 1,54 2,-33 2,10 1,5 2,-29 1,39 2,-18 2,-6 1,-33 2,32 1,-13 2,19 2,7 1,5 2,-17 1,5 2,-7 2,5 1,-32 2,18 1,26 2,-9 2,-69 1,84 2,13 1,-46 2,27 2,31 1,-5 2,-53 1,64 2,-42 2,4 1,61 2,-42 1,-7 2,13 2,-27 1,19 2,-8 1,34 2,-22 2,20 1,-31 2,49 1,-30 2,5 2,78 1,-96 2,16 1,5 2,-59 2,41 1,-3 2,16 1,51 2,-61 2,12 1,49 2,2 1,17 2,-30 2,-11 1,15 2,-13 1,-11 2,0 2,-18 1,33 2,-21 1,0 2,39 2,-1 1,-21 2,1 1,-20 2,35 2,10 1,-28 2,-6 1,34 2,-29 2,-6 1,69 2,-12 1,-80 2,42 2,28 1,-40 2,31 1,-56 2,50 2,10 1,28 2,-30 1,16 2,-8 2,9 1,-4 2,12 1,7 2,0 2,-34 1,-2 2,81 1,-72 2,42 2,-36 1,26 2,-16 1,-15 2,17 2,3 1,95 2,-104 1,1 2,-1 2,26 1,-25 2,44 1,-7 2,-26 2,14 1,-6 2,34 1,3 2,-20 2,3 1,18 2,0 1,-26 2,15 2,-7 1,15 2,-17 1,-19 2,37 2,-5 1,18 2,-13 1,5 2,51 2,-32 1,-10 2,-32 1,45 2,-11 2,0 1,-16 2,-9 1,40 2,-31 2,25 1,10 2,7 1,-10 2,-25 2,27 1,4 2,3 1,2 2,-2 2,-4 1,2 2,-18 1,90 2,-81 2,44 1,16 2,-32 1,-9 2,24 2,-19 1,6 2,10 1,-9 2,3 2,25 1,-20 2,3 1,61 2,-31 2,25 1,-57 2,32 1,-46 2,60 2,-10 1,-2 2,-1 1,17 2,-28 2,14 1,-4 2,20 1,-9 2,40 2,-22 1,4 2,-7 1,5 2,-22 2,27 1,33 2,-49 1,18 2,25 2,-13 1,-2 2,31 1,-11 2,-4 2,6 1,-5 2,3 1,29 2,-38 2,26 1,-44 2,69 1,-30 2,-13 2,40 1,-20 2,16 1,-47 2,24 2,17 1,-9 2,22 1,-18 2,9 2,-36 1,20 2,0 1,29 2,-4 2,12 1,-8 2,26 1,-25 2,15 2,22 1,-17 2,8 1,4 2,3 2,0 1,14 2,-8 1,-27 2,9 2,34 1,-5 2,-6 1,-2 2,6 2,-2 1,9 2,7 1,-25 2,38 2,-29 1,3 2,13 1,-9 2,28 2,-46 1,49 2,-6 1,-27 2,25 2,-2 1,0 2,26 1,-3 2,-8 2,8 1,11 2,-4 1,6 2,30 2,-41 1,20 2,20 1,-28 2,27 2,-4 1,-38 2,35 1,11 2,-21 2,11 1,12 2,-19 1,24 2,-3 2,-14 1,27 2,-11 1,-9 2,5 2,16 1,2 2,10 1,-23 2,28 2,-23 1,20 2,-10 1,-1 2,12 2,-9 1,20 2,-3 1,7 2,-20 2,19 1,1 2,-7 1,0 2,-7 2,19 1,-22 2,2 1,28 2,-30 2,1 1,28 2,-8 1,-2 2,-5 2,10 1,-9 2,3 1,18 2,-17 2,1 1,-1 2,27 1,-42 2,33 2,10 1,-6 2,-7 1,-4 2,-17 2,29 1,-3 2,8 1,-32 2,34 2,-27 1,40 2,-16 1,-13 2,4 2,8 1,4 2,1 1,-11 2,33 2,-6 1,-21 2,16 1,-32 2,14 2,20 1,-4 2,2 1,22 2,-35 2,10 1,-1 2,7 1,-17 2,27 2,-11 1,-4 2,2 1,1 2,3 2,-12 1,22 2,-20 1,14 2,-22 2,24 1,15 2,-10 1,0 2,12 2,-11 1,0 2,-4 1,19 2,7 2,-31 1,13 2,21 1,-44 2,33 2,-18 1,9 2,-17 1,36 2,-15 2,-31 1,38 2,-35 1,7 2,5 2,3 1,13 2,-7 1,14 2,-6 2,1 1,-11 2,-19 1,24 2,21 2,-29 1,20 2,-9 1,-5 2,1 2,0 1,-13 2,24 1,-27 2,8 2,15 1,-10 2,-1 1,-13 2,12 2,17 1,7 2,-7 1,-6 2,2 2,-3 1,3 2,-9 1,-30 2,41 2,-25 1,23 2,0 1,-29 2,34 2,-28 1,8 2,-3 1,-22 2,22 2,-17 1,26 2,-5 1,2 2,-5 2,3 1,11 2,-29 1,15 2,10 2,-1 1,-2 2,8 1,-74 2,58 2,8 1,3 2,-9 1,-1 2,-8 2,12 1,2 2,-13 1,-3 2,34 2,-23 1,5 2,-10 1,-4 2,15 2,-6 1,-16 2,23 1,-20 2,10 2,-3 1,-11 2,2 1,12 2,4 2,-13 1,11 2,8 1,-22 2,4 2,-12 1,9 2,12 1,-16 2,13 2,-19 1,-8 2,34 1,-13 2,1 2,-10 1,-11 2,25 1,-7 2,-26 2,39 1,-37 2,17 1,0 2,8 2,-3 1,-34 2,41 1,-36 2,10 2,23 1,-4 2,-15 1,-16 2,21 2,-6 1,1 2,16 1,-11 2,-8 2,8 1,-40 2,58 1,-22 2,6 2,-14 1,13 2,-26 1,12 2,19 2,-33 1,-40 2,71 1,-35 2,13 2,-6 1,-6 2,10 1,4 2,4 2,-5 1,23 2,-47 1,32 2,-11 2,-14 1,5 2,12 1,26 2,-18 2,-9 1,-16 2,-10 1,-4 2,10 2,-10 1,-7 2,16 1,1 2,-14 2,1 1,33 2,-9 1,-26 2,0 2,9 1,9 2,-10 1,-5 2,13 2,-11 1,-10 2,2 1,-7 2,18 2,11 1,-12 2,0 1,6 2,-6 2,-6 1,27 2,10 1,-26 2,-4 2,-9 1,31 2,-35 1,2 2,4 2,-9 1,17 2,28 1,-35 2,3 2,-3 1,16 2,-7 1,2 2,-8 2,10 1,0 2,1 1,12 2,-23 2,-5 1,0 2,32 1,-17 2,-1 2,-11 1,15 2,6 1,-6 2,8 2,-12 1,12 2,5 1,9 2,-36 2,23 1,-19 2,20 1,-6 2,-5 2,8 1,13 2,-36 1,22 2,-19 2,23 1,-17 2,16 1,-17 2,18 2,-27 1,23 2,-5 1,27 2,-36 2,18 1,-10 2,21 1,-10 2,6 2,2 1,-55 2,59 1,-6 2,-22 2,24 1,54 2,-45 1,-25 2,-10 2,20 1,-2 2,15 1,-32 2,29 2,-5 1,14 2,-15 1,-27 2,44 2,-13 1,-4 2,17 1,14 2,-10 2,-11 1,3 2,3 1,11 2,-6 2,-35 1,27 2,-22 1,10 2,-6 2,18 1,-5 2,8 1,-10 2,36 2,-23 1,6 2,-11 1,18 2,-5 2,-34 1,46 2,-15 1,-14 2,11 2,6 1,-5 2,15 1,-19 2,-7 2,27 1,-33 2,25 1,3 2,-27 2,15 1,10 2,-10 1,25 2,-13 2,-2 1,6 2,-20 1,24 2,-28 2,25 1,-2 2,7 1,1 2,-8 2,-11 1,28 2,6 1,-21 2,22 2,-13 1,20 2,-18 1,-17 2,10 2,-1 1,0 2,-24 1,35 2,-6 2,5 1,11 2,-34 1,24 2,2 2,2 1,-28 2,17 1,-1 2,33 2,-17 1,-8 2,0 1,-6 2,27 2,-13 1,-13 2,12 1,17 2,-15 2,16 1,-26 2,33 1,-24 2,6 2,15 1,-9 2,10 1,-26 2,34 2,-30 1,16 2,-10 1,-9 2,12 2,15 1,1 2,-12 1,-2 2,9 2,9 1,-9 2,2 1,12 2,-2 2,2 1,0 2,-6 1,-11 2,10 2,-1 1,10 2,-11 1,10 2,3 2,-13 1,9 2,14 1,-12 2,-20 2,29 1,-15 2,3 1,14 2,-21 2,11 1,2 2,-22 1,27 2,5 2,-15 1,25 2,-12 1,-1 2,-6 2,31 1,0 2,-14 1,19 2,-9 2,-22 1,0 2,28 1,-14 2,47 2,-40 1,-9 2,17 1,2 2,-28 2,13 1,5 2,-3 1,16 2,-20 2,17 1,-13 2,11 1,5 2,-6 2,-4 1,16 2,3 1,-3 2,9 2,-27 1,16 2,1 1,-5 2,-2 2,25 1,-16 2,-1 1,-3 2,-3 2,5 1,8 2,10 1,-2 2,-24 2,16 1,-4 2,6 1,14 2,-23 2,21 1,-12 2,16 1,3 2,-15 2,2 1,-2 2,4 1,0 2,-2 2,15 1,-13 2,7 1,12 2,-25 2,-1 1,-13 2,33 1,19 2,-22 2,8 1,-1 2,0 1,-2 2,3 2,0 1,13 2,-14 1,2 2,-1 2,7 1,-13 2,-8 1,23 2,-13 2,10 1,-8 2,8 1,7 2,-10 2,0 1,-11 2,19 1,-15 2,-2 2,7 1,13 2,-7 1,18 2,-12 2,-13 1,-6 2,13 1,-10 2,-2 2,18 1,-2 2,1 1,-11 2,6 2,1 1,9 2,-22 1,3 2,-9 2,2 1,21 2,-14 1,18 2,-18 2,1 1,-11 2,15 1,6 2,-20 2,21 1,-18 2,-14 1,8 2,28 2,3 1,-5 2,-3 1,0 2,2 2,-9 1,0 2,8 1,1 2,-5 2,-9 1,7 2,2 1,4 2,-6 2,21 1,-18 2,-4 1,-7 2,13 2,2 1,-23 2,15 1,-7 2,-4 2,0 1,7 2,-16 1,22 2,-1 2,0 1,-12 2,18 1,7 2,-30 2,16 1,1 2,-15 1,28 2,-20 2,-3 1,-1 2,-2 1,6 2,-2 2,11 1,-1 2,-1 1,-7 2,9 2,-7 1,2 2,-23 1,18 2,9 2,-9 1,9 2,-19 1,19 2,13 2,-24 1,10 2,-8 1,-9 2,0 2,20 1,-25 2,17 1,-10 2,10 2,6 1,-5 2,-18 1,-16 2,28 2,-12 1,34 2,-31 1,25 2,-11 2,-22 1,8 2,4 1,8 2,8 2,-15 1,8 2,4 1,-8 2,1 2,-2 1,-1 2,1 1,13 2,-8 2,-9 1,-3 2,1 1,3 2,7 2,11 1,-15 2,2 1,-10 2,-33 2,37 1,22 2,-20 1,-5 2,7 2,2 1,-2 2,1 1,-16 2,18 2,-26 1,24 2,-1 1,-7 2,11 2,-5 1,-10 2,12 1,-3 2,4 2,-7 1,-20 2,32 1,-22 2,16 2,-1 1,-13 2,12 1,10 2,-10 2,4 1,-29 2,35 1,-5 2,-9 2,-7 1,20 2,-14 1,5 2,-8 2,5 1,-3 2,20 1,-15 2,-6 2,-6 1,1 2,11 1,-5 2,14 2,5 1,-26 2,6 1,12 2,7 2,-12 1,4 2,-14 1,13 2,-11 2,16 1,-4 2,-9 1,19 2,-3 2,-23 1,14 2,2 1,-2 2,1 2,-6 1,-10 2,22 1,-4 2,5 2,-25 1,30 2,-3 1,-12 2,10 2,13 1,-12 2,1 1,3 2,-9 2,8 1,-23 2,13 1,1 2,-12 2,21 1,-3 2,9 1,-13 2,-6 2,22 1,-10 2,-8 1,14 2,5 2,1 1,-16 2,7 1,6 2,-6 2,0 1,5 2,4 1,-1 2,-4 2,15 1,-12 2,5 1,15 2,-28 2,13 1,-13 2,17 1,-15 2,5 2,-4 1,23 2,-11 1,-8 2,17 2,-2 1,9 2,-30 1,-4 2,13 2,7 1,8 2,-9 1,8 2,-7 2,-2 1,21 2,-21 1,19 2,8 2,-14 1,-8 2,8 1,-9 2,11 2,-9 1,10 2,-8 1,-7 2,16 2,1 1,5 2,-1 1,-1 2,4 2,-6 1,2 2,7 1,-13 2,22 2,-24 1,10 2,-8 1,6 2,3 2,0 1,17 2,-16 1,2 2,-7 2,-9 1,20 2,1 1,3 2,14 2,-7 1,-8 2,3 1,0 2,2 2,-5 1,8 2,-9 1,5 2,-4 2,-7 1,9 2,-13 1,38 2,-17 2,-8 1,-5 2,6 1,-2 2,4 2,5 1,0 2,1 1,-5 2,13 2,-6 1,-13 2,17 1,-5 2,0 2,-3 1,3 2,5 1,-1 2,0 2,-15 1,10 2,2 1,12 2,-11 2,-7 1,11 2,3 1,-12 2,-4 2,25 1,-6 2,-33 1,25 2,0 2,7 1,-3 2,6 1,-6 2,-8 2,33 1,-18 2,-8 1,3 2,-3 2,-19 1,17 2,8 1,-21 2,17 2,11 1,-22 2,8 1,13 2,-8 2,17 1,-31 2,5 1,13 2,7 2,-30 1,13 2,5 1,21 2,-20 2,5 1,-4 2,-2 1,-2 2,6 2,-4 1,6 2,7 1,-11 2,12 2,7 1,-12 2,-2 1,8 2,-13 2,-1 1,-3 2,16 1,-4 2,-4 2,-6 1,11 2,2 1,16 2,-20 2,-2 1,16 2,-12 1,2 2,-10 2,3 1,2 2,-2 1,-4 2,24 2,-8 1,-6 2,-5 1,5 2,-1 2,4 1,-4 2,13 1,-18 2,2 2,0 1,16 2,-31 1,21 2,11 2,-19 1,15 2,-8 1,7 2,2 2,-7 1,2 2,13 1,-19 2,6 2,-4 1,2 2,5 1,-5 2,-5 2,14 1,-14 2,6 1,4 2,-10 2,24 1,-15 2,-9 1,8 2,-3 2,7 1,-4 2,-3 1,13 2,-3 2,-9 1,12 2,-12 1,-1 2,4 2,6 1,3 2,-2 1,-3 2,-7 2,11 1,-7 2,-6 1,9 2,-9 2,13 1,7 2,-5 1,10 2,-10 2,0 1,-10 2,8 1,-4 2,0 2,-6 1,23 2,-9 1,2 2,-4 2,2 1,-8 2,8 1,3 2,-5 2,-2 1,4 2,-21 1,20 2,4 2,-6 1,4 2,8 1,-4 2,-9 2,1 1,-12 2,20 1,8 2,5 2,-7 1,-6 2,3 1,-1 2,-8 2,-3 1,8 2,2 1,-5 2,15 2,-7 1,0 2,0 1,-7 2,-6 2,25 1,-9 2,-18 1,0 2,5 2,11 1,-2 2,5 1,-16 2,17 2,-2 1,-2 2,-12 1,16 2,-15 2,14 1,-5 2,7 1,3 2,-12 2,11 1,0 2,-10 1,-14 2,24 2,-2 1,3 2,-8 1,-19 2,26 2,-4 1,1 2,2 1,-7 2,8 2,-3 1,8 2,-8 1,2 2,-5 2,5 1,-7 2,17 1,-4 2,10 2,-13 1,-7 2,-7 1,4 2,18 2,-14 1,3 2,2 1,12 2,-18 2,7 1,-1 2,-2 1,3 2,-8 2,5 1,1 2,6 1,11 2,-12 2,0 1,6 2,-8 1,-11 2,15 2,-3 1,-7 2,4 1,-3 2,-1 2,9 1,-11 2,24 1,-18 2,0 2,8 1,6 2,-8 1,-13 2,9 2,-10 1,10 2,-10 1,1 2,22 2,-14 1,2 2,2 1,-4 2,-9 2,-6 1,16 2,1 1,0 2,2 2,-10 1,10 2,5 1,-1 2,-3 2,4 1,0 2,-3 1,1 2,-4 2,7 1,-5 2,1 1,7 2,-18 2,10 1,-3 2,4 1,-15 2,19 2,-3 1,-5 2,-3 1,10 2,2 2,-18 1,14 2,-4 1,9 2,-14 2,1 1,10 2,-5 1,13 2,-13 2,8 1,-2 2,4 1,-10 2,-3 2,15 1,12 2,-24 1,9 2,-9 2,5 1,9 2,-13 1,9 2,-6 2,-1 1,1 2,4 1,-10 2,-7 2,12 1,-2 2,1 1,8 2,-2 2,3 1,-4 2,-3 1,-7 2,10 2,3 1,-4 2,-4 1,7 2,-1 2,3 1,1 2,-11 1,15 2,-6 2,3 1,-4 2,5 1,-1 2,-13 2,13 1,-5 2,7 1,-6 2,-10 2,2 1,9 2,-24 1,23 2,5 2,-7 1,0 2,4 1,-5 2,13 2,-5 1,-4 2,8 1,-1 2,-11 2,-3 1,-7 2,17 1,-12 2,8 2,2 1,-1 2,-8 1,5 2,-2 2,7 1,5 2,0 1,-3 2,5 2,-3 1,-5 2,9 1,-6 2,-1 2,-13 1,19 2,3 1,-5 2,4 2,-10 1,8 2,-5 1,15 2,-38 2,21 1,0 2,-3 1,7 2,-23 2,33 1,-12 2,-4 1,10 2,1 2,0 1,-8 2,4 1,1 2,-2 2,0 1,-6 2,0 1,-1 2,6 2,2 1,0 2,1 1,0 2,-7 2,-4 1,10 2,0 1,-5 2,-3 2,2 1,-3 2,11 1,-6 2,4 2,0 1,2 2,3 1,7 2,-26 2,19 1,-7 2,11 1,-6 2,-8 2,0 1,13 2,-9 1,-11 2,9 2,6 1,1 2,-15 1,16 2,-8 2,12 1,-11 2,10 1,-11 2,10 2,-9 1,1 2,0 1,4 2,-1 2,8 1,-9 2,-7 1,5 2,6 2,-5 1,1 2,-4 1,8 2,0 2,5 1,-6 2,-14 1,16 2,3 2,-2 1,-3 2,-5 1,-2 2,14 2,-18 1,11 2,-8 1,10 2,-7 2,3 1,7 2,0 1,-1 2,16 2,-8 1,-13 2,4 1,11 2,-9 2,-19 1,17 2,-2 1,0 2,3 2,0 1,1 2,-8 1,16 2,-19 2,11 1,10 2,-19 1,19 2,-12 2,4 1,-6 2,3 1,-12 2,22 2,-12 1,-3 2,-3 1,8 2,10 2,-8 1,7 2,-15 1,12 2,-7 2,16 1,-7 2,5 1,-2 2,-9 2,-3 1,-1 2,0 1,7 2,8 2,-24 1,15 2,7 1,4 2,-10 2,0 1,-10 2,12 1,6 2,-2 2,-3 1,-2 2,0 1,7 2,-5 2,0 1,-8 2,1 1,17 2,-7 2,-2 1,-19 2,21 1,-1 2,1 2,-6 1,-2 2,2 1,4 2,-2 2,-2 1,0 2,2 1,8 2,-2 2,-6 1,-16 2,28 1,-6 2,-11 2,8 1,4 2,1 1,-11 2,1 2,18 1,-15 2,-5 1,13 2,-5 2,-8 1,13 2,-8 1,-4 2,6 2,-2 1,-5 2,-3 1,13 2,5 2,-21 1,11 2,-2 1,-3 2,13 2,3 1,-9 2,-6 1,4 2,4 2,3 1,-9 2,5 1,13 2,-14 2,2 1,7 2,-3 1,-10 2,10 2,-6 1,5 2,-7 1,1 2,0 2,5 1,-7 2,14 1,-13 2,-1 2,13 1,-20 2,14 1,0 2,4 2,-12 1,17 2,-11 1,0 2,5 2,1 1,3 2,2 1,-14 2,11 2,6 1,-17 2,-2 1,9 2,3 2,-2 1,-16 2,14 1,1 2,-9 2,7 1,1 2,7 1,-12 2,10 2,-5 1,-8 2,10 1,3 2,-7 2,5 1,-3 2,6 1,-14 2,15 2,-14 1,6 2,1 1,2 2,0 2,6 1,-14 2,10 1,-9 2,18 2,0 1,-13 2,-14 1,17 2,5 2,-19 1,22 2,-8 1,-13 2,13 2,8 1,-1 2,-11 1,9 2,-8 2,0 1,-8 2,11 1,-3 2,9 2,-1 1,-17 2,8 1,12 2,0 2,-7 1,3 2,1 1,-10 2,4 2,27 1,-34 2,11 1,-4 2,0 2,-1 1,1 2,9 1,-10 2,5 2,1 1,-8 2,1 1,10 2,-4 2,1 1,-6 2,-1 1,12 2,-7 2,13 1,-21 2,9 1,-3 2,12 2,-15 1,1 2,-1 1,-7 2,13 2,-7 1,4 2,-4 1,7 2,2 2,-8 1,1 2,-4 1,14 2,-6 2,-1 1,2 2,-7 1,-4 2,-5 2,19 1,0 2,-7 1,3 2,11 2,-8 1,-3 2,7 1,-8 2,2 2,3 1,0 2,-2 1,-1 2,2 2,1 1,-2 2,1 1,1 2,-9 2,1 1,5 2,-3 1,2 2,5 2,-4 1,-5 2,-1 1,4 2,-7 2,7 1,-7 2,6 1,12 2,-12 2,-1 1,6 2,-5 1,-2 2,6 2,-1 1,7 2,-11 1,12 2,-3 2,5 1,-12 2,1 1,6 2,-5 2,-7 1,6 2,5 1,-2 2,0 2,-16 1,8 2,9 1,-5 2,-3 2,-4 1,12 2,-1 1,2 2,4 2,-12 1,6 2,-2 1,22 2,-18 2,-2 1,3 2,6 1,-7 2,0 2,2 1,-15 2,7 1,3 2,12 2,-17 1,15 2,-13 1,3 2,-2 2,7 1,-7 2,-3 1,16 2,-10 2,-6 1,4 2,0 1,3 2,5 2,-12 1,-4 2,4 1,3 2,-4 2,9 1,-4 2,-11 1,13 2,0 2,2 1,-13 2,8 1,3 2,-3 2,5 1,5 2,-16 1,4 2,4 2,-5 1,11 2,0 1,-4 2,-5 2,5 1,-3 2,2 1,-2 2,5 2,2 1,-2 2,-13 1,9 2,7 2,-6 1,2 2,0 1,-1 2,-6 2,9 1,2 2,2 1,-2 2,5 2,-15 1,8 2,-6 1,-2 2,10 2,3 1,-6 2,-1 1,4 2,-6 2,9 1,-9 2,-8 1,9 2,6 2,-6 1,5 2,-12 1,5 2,-1 2,8 1,4 2,-13 1,5 2,-4 2,8 1,-8 2,2 1,2 2,-5 2,1 1,2 2,0 1,16 2,-19 2,2 1,-7 2,4 1,4 2,7 2,-5 1,6 2,-3 1,-18 2,10 2,1 1,-4 2,11 1,-14 2,3 2,7 1,-2 2,4 1,-8 2,1 2,1 1,3 2,-4 1,6 2,-6 2,5 1,-4 2,3 1,4 2,4 2,-7 1,0 2,-1 1,-1 2,10 2,-10 1,-1 2,7 1,0 2,-5 2,8 1,6 2,-14 1,11 2,-9 2,1 1,-2 2,9 1,-2 2,-16 2,11 1,-10 2,8 1,0 2,1 2,6 1,-1 2,-3 1,-1 2,-1 2,-1 1,-1 2,4 1,-5 2,0 2,4 1,-2 2,5 1,-1 2,2 2,-6 1,-2 2,5 1,-2 2,0 2,16 1,-19 2,11 1,-4 2,-8 2,5 1,0 2,2 1,1 2,10 2,-23 1,9 2,-1 1,-9 2,14 2,6 1,-8 2,1 1,-9 2,5 2,1 1,-12 2,11 1,2 2,-5 2,-1 1,4 2,4 1,3 2,3 2,-14 1,13 2,-7 1,3 2,-11 2,4 1,10 2,-6 1,2 2,0 2,-3 1,4 2,0 1,0 2,-4 2,6 1,-9 2,4 1,5 2,7 2,-7 1,0 2,4 1,-2 2,-3 2,17 1,-25 2,-2 1,4 2,-2 2,7 1,-1 2,-5 1,4 2,-15 2,17 1,6 2,-15 1,10 2,-20 2,16 1,-2 2,4 1,-2 2,1 2,-1 1,-4 2,20 1,-16 2,-10 2,10 1,-1 2,4 1,0 2,8 2,-5 1,-3 2,3 1,-7 2,1 2,0 1,4 2,4 1,-9 2,-2 2,5 1,6 2,-5 1,-14 2,15 2,6 1,-10 2,-3 1,-2 2,11 2,-19 1,13 2,3 1,1 2,-3 2,6 1,-6 2,3 1,-2 2,1 2,4 1,-19 2,10 1,0 2,0 2,-2 1,9 2,-7 1,4 2,-2 2,1 1,-5 2,10 1,-5 2,1 2,4 1,-1 2,5 1,-6 2,-1 2,-14 1,13 2,14 1,-11 2,1 2,-15 1,20 2,-20 1,18 2,-2 2,-3 1,-4 2,4 1,2 2,3 2,-1 1,-10 2,16 1,-11 2,3 2,-12 1,5 2,0 1,3 2,1 2,-7 1,3 2,10 1,-5 2,-4 2,10 1,3 2,-7 1,-2 2,7 2,-9 1,18 2,-15 1,-11 2,11 2,5 1,-9 2,3 1,0 2,3 2,-10 1,14 2,-8 1,18 2,-22 2,-2 1,5 2,2 1,9 2,-4 2,-2 1,-2 2,-8 1,10 2,1 2,-7 1,5 2,0 1,-1 2,-9 2,7 1,6 2,-9 1,14 2,-14 2,6 1,-1 2,-2 1,1 2,9 2,-10 1,3 2,-5 1,2 2,0 2,8 1,-13 2,2 1,7 2,-16 2,18 1,5 2,-1 1,-16 2,4 2,7 1,-1 2,-9 1,15 2,-9 2,-4 1,11 2,-1 1,5 2,-11 2,2 1,6 2,-16 1,4 2,2 2,-1 1,-18 2,20 1,-1 2,-4 2,11 1,-4 2,-4 1,-5 2,13 2,-19 1,5 2,14 1,5 2,-5 2,-6 1,-10 2,11 1,-5 2,7 2,-3 1,-1 2,5 1,-2 2,3 2,-2 1,-16 2,3 1,11 2,3 2,8 1,-6 2,-1 1,17 2,-24 2,0 1,5 2,8 1,-9 2,7 2,-12 1,8 2,0 1,-3 2,5 2,-2 1,7 2,-1 1,-3 2,-4 2,-3 1,1 2,-4 1,6 2,0 2,3 1,-1 2,8 1,-7 2,-7 2,1 1,2 2,2 1,-3 2,2 2,3 1,-2 2,-2 1,-6 2,3 2,5 1,2 2,-12 1,10 2,-9 2,1 1,7 2,2 1,12 2,-19 2,-2 1,16 2,-5 1,-9 2,9 2,-5 1,2 2,-3 1,-16 2,6 2,20 1,0 2,-1 1,-21 2,11 2,15 1,-16 2,5 1,-7 2,5 2,6 1,0 2,-4 1,0 2,0 2,-2 1,-2 2,1 1,-2 2,12 2,-6 1,-11 2,13 1,-4 2,4 2,2 1,-19 2,12 1,-2 2,10 2,-3 1,1 2,1 1,-2 2,1 2,12 1,-15 2,2 1,-14 2,11 2,1 1,1 2,1 1,-8 2,6"/>
<path fill="none" stroke="#0A0AB4" stroke-width="22" stroke-linejoin="round" d="M513,2197l2,-1 1,-6 2,3 1,3 2,-6 2,-4 1,-3 2,-6 1,3 2,-5 2,-8 1,6 2,3 1,-2 2,-9 2,11 1,-16 2,-1 1,2 2,14 2,-5 1,-10 2,-15 1,9 2,6 2,-20 1,-2 2,6 1,-9 2,2 2,-6 1,15 2,-8 1,-2 2,-2 2,3 1,1 2,-16 1,-4 2,-5 2,7 1,-13 2,12 1,-7 2,-9 2,11 1,4 2,8 1,-11 2,-26 2,16 1,-11 2,-8 1,7 2,7 2,-6 1,-6 2,-18 1,21 2,-21 2,12 1,4 2,-3 1,-17 2,29 2,-21 1,-5 2,3 1,3 2,0 2,-17 1,0 2,20 1,-23 2,16 2,-10 1,-17 2,5 1,7 2,-19 2,8 1,14 2,-15 1,-2 2,-4 2,1 1,-8 2,-2 1,7 2,-3 2,-4 1,5 2,-10 1,-24 2,23 2,-13 1,-2 2,11 1,-20 2,-6 2,12 1,-11 2,11 1,-1 2,-17 2,-4 1,19 2,-10 1,8 2,-15 2,-11 1,2 2,7 1,-6 2,7 2,2 1,2 2,-7 1,-18 2,-13 2,9 1,18 2,-11 1,-26 2,-3 2,13 1,-15 2,15 1,9 2,-17 2,16 1,-26 2,-9 1,2 2,-2 2,-1 1,-8 2,8 1,-7 2,-3 2,4 1,-3 2,16 1,-46 2,37 2,-23 1,-14 2,28 1,-12 2,-27 2,20 1,-17 2,24 1,-38 2,14 2,-8 1,15 2,-25 1,2 2,4 2,4 1,3 2,-22 1,6 2,-2 2,16 1,-21 2,-16 1,21 2,-12 2,-8 1,-9 2,13 1,10 2,0 2,-42 1,26 2,-28 1,10 2,8 2,-17 1,39 2,0 1,-20 2,-26 2,12 1,-29 2,20 1,-5 2,-2 2,18 1,-27 2,-7 1,13 2,-17 2,18 1,-27 2,9 1,-24 2,23 2,-7 1,13 2,2 1,-12 2,-9 2,17 1,-24 2,16 1,-30 2,37 2,-14 1,-31 2,19 1,-4 2,-34 2,20 1,-17 2,38 1,-20 2,-2 2,-2 1,-23 2,-16 1,-1 2,24 2,13 1,-19 2,-31 1,31 2,-5 2,1 1,-21 2,-7 1,-15 2,4 2,33 1,-18 2,-9 1,-2 2,-2 2,-8 1,10 2,-13 1,22 2,6 2,-30 1,-27 2,24 1,-7 2,-7 2,18 1,-28 2,2 1,12 2,-19 2,46 1,-17 2,-17 1,-3 2,-37 2,42 1,-8 2,-35 1,11 2,17 2,-24 1,-20 2,53 1,-26 2,-32 2,22 1,-18 2,42 1,-78 2,52 2,3 1,-26 2,-45 1,64 2,-32 2,18 1,-7 2,-1 1,-1 2,-15 2,-18 1,23 2,11 1,-19 2,-40 2,42 1,-28 2,39 1,-59 2,12 2,34 1,-15 2,-13 1,-1 2,-5 2,12 1,2 2,-9 1,-8 2,14 2,-43 1,19 2,28 1,-77 2,35 2,5 1,-36 2,0 1,-5 2,42 2,-3 1,8 2,-13 1,11 2,2 2,-20 1,17 2,-28 1,20 2,-15 2,-34 1,55 2,-9 1,-18 2,26 2,-54 1,29 2,-31 1,42 2,-49 2,38 1,-32 2,2 1,28 2,6 2,-1 1,2 2,-33 1,62 2,-49 2,6 1,-18 2,85 1,-58 2,-24 2,43 1,3 2,7 1,-52 2,29 2,-9 1,25 2,3 1,-19 2,13 2,-28 1,6 2,39 1,-30 2,-10 2,-3 1,7 2,-18 1,39 2,-10 2,24 1,-22 2,37 1,-9 2,-27 2,-15 1,6 2,44 1,-7 2,7 2,2 1,-18 2,-10 1,19 2,0 2,-15 1,4 2,-6 1,-20 2,62 2,-32 1,0 2,39 1,-75 2,39 2,7 1,13 2,-16 1,-2 2,4 2,13 1,-13 2,27 1,12 2,-37 2,51 1,-47 2,21 1,-23 2,54 2,-60 1,92 2,-60 1,-10 2,11 2,-11 1,39 2,-10 1,-31 2,21 2,-13 1,27 2,9 1,-24 2,20 2,-21 1,7 2,-41 1,54 2,-2 2,22 1,5 2,-26 1,5 2,-7 2,7 1,7 2,-24 1,2 2,23 2,-18 1,-3 2,31 1,8 2,-21 2,11 1,4 2,26 1,-2 2,-41 2,38 1,-13 2,-8 1,21 2,6 2,10 1,-2 2,-21 1,23 2,-9 2,-31 1,37 2,-20 1,10 2,-8 2,6 1,4 2,-36 1,56 2,-5 2,22 1,-25 2,28 1,-37 2,-4 2,17 1,12 2,-26 1,0 2,32 2,10 1,11 2,-44 1,20 2,6 2,-12 1,18 2,-3 1,1 2,-9 2,-59 1,61 2,34 1,-52 2,17 2,-16 1,42 2,-16 1,24 2,-13 2,-5 1,18 2,-24 1,10 2,20 2,-15 1,-5 2,5 1,-18 2,36 2,-8 1,-17 2,25 1,-18 2,10 2,5 1,-16 2,-16 1,41 2,-11 2,-17 1,18 2,9 1,-4 2,6 2,8 1,7 2,-20 1,36 2,-18 2,-3 1,-5 2,4 1,-4 2,4 2,-22 1,12 2,4 1,-3 2,24 2,-27 1,27 2,4 1,35 2,-38 2,11 1,-21 2,15 1,-15 2,10 2,17 1,-12 2,-21 1,11 2,2 2,-1 1,49 2,-32 1,8 2,-10 2,-3 1,4 2,4 1,3 2,-11 2,44 1,-15 2,-22 1,23 2,-11 2,-4 1,23 2,-7 1,15 2,-40 2,-13 1,52 2,2 1,-12 2,23 2,-1 1,9 2,1 1,-21 2,7 2,3 1,-7 2,26 1,-42 2,35 2,-16 1,23 2,3 1,-7 2,5 2,4 1,-32 2,27 1,-19 2,31 2,1 1,1 2,14 1,-12 2,27 2,-10 1,0 2,-12 1,4 2,9 2,-2 1,20 2,-13 1,7 2,-4 2,-13 1,10 2,2 1,2 2,26 2,2 1,-13 2,18 1,-25 2,-24 2,23 1,23 2,-10 1,15 2,4 2,-13 1,28 2,-32 1,27 2,-7 2,-9 1,18 2,-5 1,30 2,-19 2,-18 1,21 2,-9 1,-14 2,11 2,24 1,-10 2,9 1,-15 2,-6 2,7 1,1 2,4 1,15 2,-3 2,37 1,-57 2,19 1,9 2,-16 2,13 1,-7 2,33 1,-31 2,32 2,-36 1,18 2,5 1,0 2,-30 2,25 1,0 2,-14 1,15 2,-1 2,5 1,-15 2,50 1,-27 2,6 2,-8 1,1 2,-28 1,26 2,-6 2,27 1,-22 2,-1 1,-1 2,-3 2,-8 1,8 2,2 1,25 2,-15 2,-6 1,18 2,-21 1,13 2,9 2,12 1,-38 2,22 1,6 2,-13 2,-9 1,8 2,3 1,9 2,9 2,5 1,-23 2,16 1,-4 2,-24 2,24 1,0 2,19 1,-16 2,-17 2,29 1,4 2,-17 1,9 2,-31 2,40 1,-5 2,-10 1,-5 2,11 2,-33 1,25 2,3 1,1 2,-2 2,22 1,-31 2,0 1,23 2,-3 2,-11 1,7 2,-23 1,-4 2,21 2,31 1,-37 2,-1 1,8 2,31 2,-27 1,4 2,-19 1,10 2,9 2,-24 1,12 2,8 1,3 2,10 2,8 1,-13 2,20 1,-19 2,-13 2,-42 1,59 2,-24 1,18 2,-6 2,3 1,-26 2,28 1,-11 2,13 2,3 1,7 2,-6 1,-12 2,11 2,-1 1,-14 2,22 1,-21 2,21 2,-12 1,-12 2,30 1,1 2,-24 2,0 1,6 2,5 1,-10 2,20 2,-13 1,-8 2,7 1,-3 2,-4 2,8 1,-11 2,16 1,-10 2,9 2,-11 1,10 2,6 1,-10 2,-4 2,-11 1,0 2,-9 1,22 2,16 2,-10 1,-36 2,39 1,-4 2,-10 2,-2 1,4 2,-9 1,15 2,-30 2,16 1,-12 2,11 1,0 2,3 2,7 1,-2 2,-5 1,20 2,-13 2,-9 1,-20 2,15 1,16 2,-19 2,-2 1,9 2,7 1,-4 2,3 2,-16 1,21 2,-13 1,-2 2,-9 2,15 1,-15 2,35 1,-36 2,-2 2,31 1,-16 2,-6 1,-12 2,18 2,6 1,-7 2,-20 1,0 2,5 2,12 1,-1 2,34 1,-46 2,7 2,-10 1,9 2,-13 1,8 2,-4 2,17 1,3 2,-16 1,-6 2,1 2,-20 1,17 2,-7 1,30 2,-14 2,-6 1,-18 2,23 1,-53 2,44 2,9 1,-21 2,8 1,-17 2,8 2,7 1,2 2,-10 1,6 2,3 2,3 1,6 2,-7 1,-7 2,7 2,9 1,-6 2,12 1,-17 2,-12 2,19 1,-2 2,-11 1,2 2,-2 2,15 1,-13 2,-8 1,1 2,22 2,-9 1,0 2,-17 1,24 2,-4 2,-10 1,0 2,-19 1,27 2,-9 2,-8 1,4 2,5 1,-23 2,32 2,-12 1,4 2,23 1,-23 2,-1 2,-8 1,12 2,-6 1,-10 2,-1 2,-25 1,28 2,-20 1,24 2,2 2,3 1,5 2,-28 1,34 2,-22 2,16 1,-28 2,27 1,-15 2,-15 2,8 1,12 2,-3 1,5 2,-16 2,6 1,-2 2,10 1,23 2,-26 2,19 1,-9 2,-6 1,37 2,-38 2,22 1,-10 2,5 1,6 2,-28 2,13 1,-7 2,19 1,-15 2,-24 2,16 1,12 2,-21 1,-2 2,21 2,6 1,-29 2,18 1,35 2,-32 2,0 1,28 2,-27 1,3 2,-14 2,17 1,-8 2,-11 1,23 2,-15 2,27 1,-12 2,3 1,-16 2,-1 2,37 1,-9 2,1 1,-15 2,-2 2,-7 1,4 2,-8 1,22 2,-8 2,-10 1,3 2,5 1,-5 2,24 2,-14 1,2 2,-4 1,4 2,10 2,-14 1,3 2,4 1,0 2,-11 2,12 1,-11 2,13 1,-3 2,9 2,-25 1,23 2,-7 1,-6 2,-6 2,17 1,-5 2,-11 1,35 2,-27 2,10 1,-14 2,25 1,5 2,-27 2,9 1,-26 2,26 1,5 2,0 2,-17 1,9 2,6 1,-26 2,25 2,0 1,3 2,15 1,-3 2,13 2,-20 1,-7 2,-5 1,19 2,-12 2,15 1,-11 2,6 1,-9 2,14 2,-8 1,-4 2,-5 1,55 2,-60 2,23 1,-15 2,7 1,-1 2,16 2,-5 1,-12 2,14 1,-7 2,13 2,-12 1,2 2,-4 1,6 2,-19 2,21 1,-2 2,-4 1,28 2,-31 2,7 1,-9 2,22 1,5 2,-21 2,15 1,-11 2,8 1,22 2,-47 2,26 1,8 2,-12 1,22 2,-9 2,-10 1,6 2,-15 1,20 2,-6 2,14 1,-17 2,4 1,13 2,-14 2,0 1,25 2,-14 1,-5 2,-2 2,9 1,7 2,-5 1,3 2,-6 2,8 1,-8 2,1 1,6 2,-6 2,10 1,-10 2,11 1,7 2,-11 2,6 1,26 2,-37 1,12 2,-28 2,28 1,20 2,-39 1,47 2,-31 2,16 1,-17 2,6 1,-10 2,18 2,-11 1,2 2,15 1,-18 2,13 2,0 1,-4 2,6 1,-28 2,25 2,-4 1,9 2,-10 1,4 2,9 2,-21 1,-6 2,21 1,28 2,-35 2,9 1,6 2,9 1,-13 2,11 2,-4 1,-10 2,3 1,11 2,-6 2,-2 1,-5 2,-8 1,25 2,6 2,-2 1,-6 2,11 1,-28 2,13 2,8 1,-10 2,3 1,-3 2,13 2,0 1,1 2,-21 1,3 2,12 2,24 1,-23 2,-2 1,2 2,-3 2,-22 1,32 2,-14 1,8 2,25 2,-29 1,2 2,14 1,0 2,-6 2,-8 1,8 2,5 1,-23 2,18 2,10 1,-24 2,11 1,12 2,-10 2,2 1,-2 2,2 1,11 2,14 2,-15 1,8 2,-12 1,15 2,-3 2,-10 1,0 2,7 1,4 2,5 2,-6 1,-4 2,7 1,-4 2,10 2,-10 1,0 2,2 1,-18 2,28 2,-6 1,-11 2,4 1,18 2,-9 2,-8 1,3 2,-3 1,4 2,-16 2,38 1,-29 2,1 1,13 2,-11 2,-1 1,3 2,5 1,2 2,7 2,-8 1,1 2,-23 1,14 2,12 2,-16 1,5 2,-6 1,-6 2,25 2,-9 1,-6 2,1 1,19 2,-26 2,14 1,-2 2,-13 1,-1 2,11 2,13 1,-4 2,-4 1,-12 2,19 2,-12 1,1 2,9 1,-9 2,0 2,5 1,-19 2,17 1,-5 2,5 2,-1 1,-1 2,-2 1,2 2,-1 2,-5 1,8 2,10 1,-28 2,8 2,-4 1,15 2,1 1,15 2,-25 2,3 1,-6 2,-4 1,9 2,-9 2,15 1,-3 2,-20 1,18 2,-16 2,3 1,16 2,-2 1,-17 2,15 2,-8 1,17 2,-22 1,17 2,-25 2,23 1,-10 2,2 1,-1 2,3 2,3 1,5 2,-4 1,2 2,-2 2,-1 1,4 2,1 1,-6 2,11 2,-7 1,-2 2,-5 1,7 2,16 2,-18 1,-3 2,-12 1,15 2,5 2,3 1,-11 2,24 1,-17 2,5 2,3 1,-16 2,-5 1,-2 2,3 2,0 1,2 2,-3 1,17 2,-11 2,-10 1,20 2,-22 1,-4 2,26 2,-17 1,6 2,-11 1,8 2,-12 2,11 1,-7 2,2 1,21 2,-14 2,-5 1,-2 2,8 1,-14 2,12 2,7 1,3 2,-3 1,-3 2,-5 2,4 1,-6 2,5 1,-10 2,-8 2,24 1,-21 2,-6 1,20 2,-5 2,6 1,-1 2,-7 1,11 2,-3 2,5 1,-2 2,-11 1,15 2,-7 2,-16 1,22 2,-7 1,-15 2,9 2,4 1,26 2,-31 1,5 2,8 2,-12 1,21 2,-17 1,-11 2,8 2,-4 1,5 2,13 1,-1 2,-15 2,7 1,-11 2,11 1,-12 2,3 2,1 1,4 2,0 1,-4 2,3 2,0 1,17 2,-4 1,-16 2,17 2,1 1,4 2,-22 1,-2 2,5 2,13 1,-3 2,6 1,-8 2,3 2,0 1,-9 2,15 1,7 2,-20 2,10 1,-4 2,15 1,-12 2,-2 2,-5 1,-1 2,22 1,-6 2,1 2,-17 1,6 2,16 1,-25 2,19 2,-13 1,-1 2,35 1,-27 2,-6 2,14 1,8 2,-3 1,-11 2,4 2,-4 1,3 2,7 1,8 2,-22 2,3 1,10 2,-24 1,24 2,4 2,4 1,-2 2,5 1,-17 2,-6 2,24 1,-7 2,15 1,-11 2,-7 2,19 1,-19 2,10 1,-9 2,9 2,-3 1,-4 2,-3 1,13 2,2 2,-19 1,12 2,-2 1,-11 2,25 2,-6 1,3 2,6 1,-15 2,11 2,-17 1,12 2,-5 1,4 2,-4 2,1 1,8 2,3 1,0 2,-3 2,0 1,-2 2,5 1,5 2,-1 2,-9 1,6 2,11 1,-12 2,13 2,1 1,-20 2,4 1,-6 2,5 2,-1 1,7 2,1 1,3 2,-16 2,27 1,-19 2,-12 1,11 2,9 2,-1 1,15 2,-17 1,1 2,-2 2,-4 1,6 2,0 1,8 2,1 2,-10 1,9 2,-3 1,5 2,-2 2,-2 1,-7 2,-1 1,12 2,6 2,-8 1,10 2,-6 1,-7 2,5 2,5 1,-6 2,1 1,-7 2,8 2,-2 1,1 2,1 1,-6 2,-3 2,29 1,-8 2,-11 1,-10 2,14 2,-28 1,16 2,16 1,-10 2,9 2,-4 1,-6 2,-1 1,12 2,-11 2,16 1,-20 2,3 1,0 2,11 2,-1 1,-8 2,17 1,-18 2,15 2,-6 1,15 2,-9 1,-4 2,0 2,-8 1,2 2,-6 1,7 2,8 2,-14 1,3 2,11 1,1 2,-28 2,20 1,-4 2,17 1,-7 2,-13 2,12 1,2 2,5 1,-2 2,-18 2,18 1,-1 2,3 1,-1 2,-8 2,0 1,9 2,-1 1,-6 2,-6 2,5 1,10 2,-4 1,14 2,-21 2,-2 1,11 2,2 1,-1 2,-16 2,10 1,-1 2,11 1,-20 2,19 2,-24 1,19 2,5 1,-6 2,-17 2,15 1,3 2,9 1,-7 2,10 2,-16 1,4 2,-3 1,9 2,-1 2,-6 1,9 2,-1 1,-16 2,16 2,8 1,-7 2,-6 1,-4 2,2 2,19 1,-14 2,-5 1,0 2,6 2,-18 1,9 2,1 1,12 2,-4 2,-4 1,2 2,-2 1,5 2,-11 2,9 1,-12 2,18 1,-11 2,12 2,-12 1,15 2,-22 1,29 2,-13 2,-3 1,-1 2,-6 1,7 2,-6 2,18 1,-9 2,-1 1,0 2,1 2,1 1,-4 2,0 1,-9 2,16 2,-8 1,0 2,-1 1,11 2,-10 2,9 1,-8 2,2 1,2 2,4 2,-2 1,-11 2,12 1,10 2,-17 2,2 1,3 2,6 1,-7 2,3 2,7 1,-10 2,-8 1,10 2,11 2,-9 1,22 2,-26 1,4 2,-4 2,-1 1,12 2,-5 1,-7 2,7 2,-2 1,-7 2,17 1,-15 2,-3 2,16 1,-11 2,15 1,-18 2,3 2,6 1,-2 2,-4 1,15 2,-5 2,-5 1,-6 2,13 1,-3 2,-13 2,12 1,6 2,-7 1,-5 2,5 2,-5 1,15 2,10 1,-24 2,5 2,-5 1,-3 2,4 1,5 2,18 2,-22 1,3 2,-5 1,3 2,10 2,-9 1,-4 2,3 1,-8 2,6 2,10 1,-10 2,0 1,19 2,-9 2,-7 1,13 2,-17 1,3 2,13 2,-11 1,5 2,-12 1,11 2,-3 2,2 1,-2 2,2 1,5 2,-12 2,-1 1,11 2,6 1,-16 2,11 2,-4 1,-6 2,-13 1,17 2,8 2,-26 1,17 2,-10 1,28 2,-11 2,13 1,-4 2,-15 1,15 2,-17 2,21 1,-24 2,17 1,-9 2,5 2,-11 1,14 2,-10 1,-7 2,15 2,0 1,5 2,-10 1,3 2,1 2,0 1,19 2,-9 1,-36 2,19 2,-4 1,13 2,-6 1,9 2,-3 2,4 1,1 2,-15 1,-4 2,23 2,-6 1,-11 2,24 1,-11 2,-6 2,5 1,-7 2,7 1,-21 2,15 2,11 1,-9 2,6 1,-8 2,9 2,-9 1,-14 2,10 1,-4 2,13 2,1 1,-7 2,8 1,-2 2,-3 2,-6 1,-3 2,17 1,1 2,-12 2,6 1,-7 2,-4 1,14 2,-4 2,0 1,4 2,-6 1,11 2,-2 2,-4 1,3 2,-12 1,2 2,3 2,5 1,-4 2,1 1,-3 2,-5 2,-2 1,22 2,-6 1,7 2,-19 2,5 1,3 2,-6 1,2 2,3 2,-1 1,-2 2,-4 1,7 2,-10 2,10 1,-4 2,1 1,9 2,-8 2,5 1,-2 2,8 1,-3 2,-3 2,-4 1,8 2,1 1,-14 2,7 2,-6 1,5 2,-5 1,25 2,-14 2,4 1,-2 2,-6 1,21 2,-10 2,-10 1,7 2,-5 1,-2 2,14 2,-13 1,-6 2,3 1,1 2,3 2,-5 1,-8 2,10 1,5 2,-5 2,3 1,-1 2,1 1,-8 2,12 2,-3 1,-6 2,2 1,-1 2,-1 2,8 1,-8 2,-5 1,16 2,-9 2,0 1,-3 2,-9 1,5 2,6 2,10 1,-7 2,17 1,-13 2,4 2,-6 1,-3 2,5 1,-8 2,1 2,9 1,-6 2,7 1,1 2,-5 2,11 1,-4 2,-17 1,17 2,1 2,-7 1,7 2,-5 1,-3 2,16 2,-26 1,26 2,-13 1,-2 2,7 2,-8 1,-7 2,10 1,-10 2,-1 2,10 1,3 2,-8 1,-1 2,0 2,6 1,5 2,11 1,-14 2,19 2,-17 1,-2 2,2 1,-8 2,-3 2,6 1,13 2,-16 1,8 2,-6 2,14 1,-12 2,4 1,9 2,-14 2,1 1,5 2,-6 1,5 2,-6 2,1 1,0 2,0 1,-4 2,7 2,11 1,-2 2,-6 1,-8 2,9 2,11 1,-7 2,-10 1,-8 2,9 2,6 1,-1 2,-5 1,9 2,1 2,-13 1,1 2,-2 1,11 2,-5 2,-7 1,8 2,-1 1,-2 2,0 2,8 1,-9 2,6 1,2 2,0 2,-12 1,14 2,-11 1,14 2,4 2,11 1,-24 2,3 1,-28 2,17 2,9 1,-3 2,2 1,-3 2,-1 2,-4 1,13 2,-7 1,7 2,-6 2,-5 1,14 2,1 1,5 2,-8 2,-4 1,8 2,-14 1,9 2,11 2,-8 1,-13 2,10 1,-2 2,2 2,-4 1,2 2,11 1,-10 2,7 2,-9 1,-5 2,7 1,3 2,10 2,-12 1,2 2,0 1,-11 2,7 2,2 1,-2 2,8 1,1 2,-10 2,7 1,-3 2,-4 1,1 2,-6 2,10 1,1 2,-3 1,7 2,2 2,-12 1,12 2,-5 1,-9 2,-4 2,6 1,1 2,3 1,-3 2,18 2,-12 1,6 2,-10 1,-4 2,2 2,2 1,12 2,-3 1,-8 2,8 2,-7 1,4 2,-8 1,0 2,-3 2,5 1,9 2,-4 1,-8 2,11 2,-2 1,2 2,25 1,-33 2,5 2,2 1,-15 2,9 1,10 2,-2 2,1 1,-3 2,-5 1,2 2,-1 2,-5 1,7 2,-2 1,4 2,4 2,-10 1,7 2,-16 1,19 2,-7 2,5 1,1 2,-5 1,11 2,-15 2,6 1,-2 2,0 1,8 2,0 2,-5 1,-2 2,-1 1,3 2,-8 2,4 1,10 2,-8 1,3 2,0 2,7 1,1 2,-6 1,-11 2,9 2,-2 1,-3 2,5 1,-3 2,4 2,-1 1,-5 2,18 1,-15 2,-5 2,-3 1,8 2,3 1,4 2,-12 2,12 1,-7 2,-8 1,-4 2,9 2,0 1,7 2,-6 1,-2 2,8 2,-8 1,5 2,0 1,6 2,4 2,-6 1,-8 2,6 1,-12 2,14 2,2 1,0 2,-11 1,8 2,-5 2,-6 1,-5 2,16 1,0 2,5 2,-7 1,-13 2,14 1,-13 2,2 2,24 1,-20 2,3 1,-3 2,14 2,0 1,-16 2,5 1,9 2,-5 2,9 1,-6 2,-5 1,0 2,4 2,-1 1,3 2,-1 1,0 2,-3 2,-5 1,6 2,6 1,-6 2,-6 2,6 1,-4 2,1 1,13 2,-16 2,11 1,7 2,-13 1,9 2,-24 2,13 1,-4 2,21 1,-11 2,-14 2,21 1,1 2,-15 1,1 2,17 2,-17 1,4 2,2 1,2 2,-4 2,-4 1,4 2,4 1,-2 2,-6 2,6 1,-4 2,-11 1,12 2,-5 2,12 1,-13 2,14 1,4 2,-1 2,-11 1,4 2,-3 1,6 2,1 2,-2 1,1 2,-3 1,0 2,-4 2,3 1,-1 2,6 1,-7 2,0 2,5 1,-4 2,11 1,-26 2,7 2,5 1,-4 2,10 1,0 2,-8 2,1 1,0 2,0 1,2 2,-9 2,-2 1,8 2,8 1,-13 2,14 2,-6 1,-7 2,12 1,1 2,-6 2,0 1,2 2,-3 1,-1 2,3 2,-4 1,9 2,1 1,-6 2,-11 2,9 1,0 2,7 1,-5 2,4 2,-2 1,0 2,2 1,-13 2,13 2,-11 1,10 2,2 1,4 2,4 2,-6 1,-15 2,12 1,-6 2,-9 2,20 1,-2 2,-2 1,-4 2,6 2,3 1,-11 2,3 1,-1 2,7 2,-2 1,0 2,-5 1,4 2,-6 2,-2 1,-7 2,11 1,-9 2,7 2,-2 1,8 2,0 1,-8 2,4 2,-1 1,3 2,-6 1,18 2,-12 2,2 1,-3 2,4 1,-17 2,14 2,5 1,-9 2,5 1,-4 2,6 2,-6 1,6 2,-5 1,8 2,-4 2,11 1,-18 2,0 1,15 2,-12 2,1 1,-5 2,6 1,1 2,18 2,-27 1,2 2,2 1,-1 2,13 2,-12 1,5 2,-1 1,-9 2,13 2,-3 1,1 2,5 1,-5 2,-3 2,2 1,-7 2,-2 1,5 2,0 2,8 1,-13 2,2 1,3 2,20 2,-10 1,-4 2,-10 1,-3 2,8 2,-7 1,3 2,-1 1,9 2,5 2,-12 1,18 2,-13 1,-2 2,-1 2,9 1,-5 2,-1 1,4 2,-2 2,0 1,-3 2,2 1,-7 2,3 2,-2 1,6 2,2 1,-2 2,2 2,7 1,-11 2,-3 1,3 2,7 2,-8 1,8 2,2 1,-13 2,0 2,10 1,1 2,2 1,-9 2,5 2,0 1,-2 2,-6 1,5 2,-1 2,-20 1,29 2,-2 1,6 2,-10 2,2 1,-10 2,8 1,-4 2,8 2,10 1,-13 2,-9 1,15 2,-18 2,11 1,-6 2,4 1,6 2,-13 2,4 1,-4 2,12 1,-7 2,-1 2,5 1,-1 2,-1 1,-8 2,16 2,-12 1,6 2,-9 1,14 2,-12 2,9 1,4 2,-6 1,7 2,3 2,-16 1,14 2,-13 1,-1 2,7 2,7 1,-9 2,-4 1,3 2,3 2,-2 1,4 2,-2 1,-5 2,-1 2,3 1,5 2,3 1,-15 2,-1 2,20 1,-22 2,22 1,-4 2,-12 2,5 1,16 2,-23 1,4 2,11 2,-6 1,1 2,-3 1,5 2,-3 2,2 1,-5 2,2 1,1 2,1 2,-1 1,2 2,-1 1,2 2,-12 2,11 1,0 2,-3 1,1 2,5 2,-9 1,18 2,-21 1,0 2,1 2,8 1,-12 2,3 1,6 2,6 2,-3 1,-7 2,10 1,-9 2,11 2,-4 1,-4 2,-10 1,9 2,3 2,17 1,-19 2,-1 1,4 2,-1 2,-5 1,16 2,-10 1,-1 2,-3 2,15 1,-8 2,-4 1,-12 2,-4 2,4 1,15 2,5 1,-9 2,1 2,-2 1,5 2,-5 1,-1 2,3 2,8 1,-1 2,-2 1,-6 2,2 2,3 1,-12 2,1 1,11 2,-1 2,-2 1,-10 2,20 1,-1 2,-4 2,-8 1,5 2,-10 1,2 2,10 2,3 1,-7 2,-1 1,5 2,-5 2,14 1,-22 2,6 1,10 2,1 2,-13 1,1 2,12 1,-3 2,0 2,-8 1,4 2,-3 1,-1 2,6 2,-14 1,19 2,6 1,8 2,-15 2,-10 1,4 2,1 1,-2 2,6 2,-11 1,10 2,-7 1,-2 2,10 2,-12 1,-5 2,18 1,-12 2,3 2,-3 1,6 2,5 1,-2 2,4 2,-3 1,-10 2,0 1,-1 2,4 2,12 1,-8 2,-1 1,-5 2,18 2,1 1,-12 2,-3 1,-17 2,14 2,-4 1,13 2,2 1,-11 2,3 2,9 1,-3 2,-12 1,1 2,17 2,-7 1,-1 2,-8 1,-7 2,17 2,-5 1,5 2,-10 1,13 2,-7 2,1 1,-2 2,8 1,-10 2,1 2,10 1,-7 2,-3 1,-1 2,7 2,0 1,-5 2,-4 1,3 2,8 2,-13 1,-8 2,20 1,-6 2,1 2,2 1,6 2,-2 1,0 2,10 2,-27 1,11 2,0 1,5 2,-5 2,0 1,4 2,-12 1,10 2,-8 2,11 1,-1 2,-1 1,15 2,-4 2,-14 1,-2 2,3 1,5 2,-5 2,-12 1,15 2,-7 1,9 2,0 2,-6 1,1 2,1 1,0 2,4 2,9 1,-8 2,-7 1,2 2,6 2,-2 1,4 2,-10 1,6 2,-5 2,9 1,-4 2,7 1,-16 2,6 2,-12 1,10 2,-9 1,7 2,11 2,-1 1,-4 2,4 1,-10 2,7 2,-9 1,11 2,-7 1,-5 2,16 2,-19 1,11 2,7 1,-13 2,4 2,11 1,2 2,0 1,-16 2,5 2,2 1,6 2,-10 1,11 2,-20 2,10 1,2 2,-4 1,1 2,11 2,-23 1,-1 2,7 1,8 2,2 2,-4 1,3 2,0 1,3 2,-5 2,4 1,5 2,-12 1,8 2,-8 2,11 1,-18 2,12 1,-1 2,7 2,-6 1,4 2,4 1,-9 2,-8 2,10 1,-9 2,8 1,-3 2,2 2,-7 1,1 2,6 1,7 2,1 2,-6 1,-1 2,5 1,5 2,-4 2,-10 1,3 2,6 1,-17 2,23 2,-8 1,-4 2,1 1,4 2,-8 2,8 1,1 2,-10 1,10 2,5 2,-7 1,5 2,-12 1,5 2,1 2,5 1,-9 2,13 1,-7 2,-11 2,9 1,-8 2,8 1,1 2,3 2,-4 1,9 2,-6 1,1 2,4 2,-4 1,-5 2,5 1,16 2,-10 2,2 1,-8 2,3 1,3 2,-8"/>
<path fill="none" stroke="#0A8A14" stroke-width="22" stroke-linejoin="round" d="M513,1851l2,-1 1,-1 2,-6 1,7 2,-12 2,11 1,-13 2,11 1,-4 2,-1 2,-6 1,9 2,-6 1,-5 2,8 2,-9 1,15 2,-8 1,-9 2,-1 2,4 1,0 2,7 1,-12 2,1 2,-2 1,6 2,2 1,8 2,-24 2,-2 1,8 2,5 1,-2 2,-17 2,5 1,-6 2,6 1,-3 2,8 2,-11 1,-4 2,0 1,-2 2,8 2,-4 1,-7 2,21 1,-27 2,7 2,4 1,-3 2,4 1,-5 2,3 2,-12 1,14 2,-14 1,-5 2,7 2,-6 1,-4 2,0 1,7 2,-4 2,3 1,-2 2,-9 1,5 2,-3 2,-3 1,7 2,0 1,-5 2,16 2,-3 1,-14 2,-5 1,-6 2,-5 2,7 1,-2 2,1 1,-10 2,9 2,-6 1,6 2,2 1,-11 2,11 2,-6 1,-5 2,-1 1,-6 2,3 2,1 1,-5 2,-14 1,6 2,13 2,-15 1,-11 2,11 1,3 2,-2 2,-16 1,21 2,-5 1,-5 2,0 2,-10 1,-4 2,13 1,-6 2,-14 2,16 1,-16 2,11 1,-2 2,-3 2,-9 1,11 2,-2 1,-8 2,-5 2,4 1,-5 2,-5 1,3 2,8 2,-13 1,11 2,-10 1,-7 2,23 2,-20 1,2 2,-4 1,8 2,-4 2,-9 1,-5 2,-4 1,12 2,-12 2,21 1,-26 2,15 1,-14 2,10 2,-11 1,-1 2,-6 1,10 2,-17 2,10 1,-10 2,29 1,-9 2,-26 2,2 1,0 2,8 1,4 2,-6 2,-10 1,16 2,-22 1,-4 2,28 2,-30 1,13 2,-6 1,0 2,-8 2,6 1,-9 2,-28 1,25 2,2 2,-4 1,-1 2,-12 1,5 2,0 2,-7 1,0 2,15 1,-23 2,-22 2,32 1,-13 2,-20 1,25 2,-10 2,2 1,-15 2,9 1,-9 2,9 2,-12 1,-3 2,-10 1,21 2,5 2,-25 1,-4 2,2 1,-14 2,18 2,-5 1,-5 2,8 1,-26 2,6 2,5 1,-16 2,11 1,-12 2,3 2,3 1,1 2,-12 1,2 2,-11 2,17 1,-16 2,11 1,-15 2,-12 2,23 1,-37 2,4 1,10 2,5 2,-8 1,1 2,-25 1,20 2,-8 2,0 1,5 2,-19 1,-1 2,6 2,-1 1,-11 2,9 1,-18 2,0 2,32 1,-25 2,-10 1,14 2,-9 2,-8 1,-4 2,45 1,-52 2,7 2,-8 1,-21 2,5 1,7 2,-2 2,-42 1,40 2,-8 1,8 2,-22 2,18 1,-7 2,-13 1,24 2,-32 2,20 1,2 2,-36 1,23 2,-1 2,-9 1,6 2,-33 1,2 2,24 2,11 1,-23 2,-13 1,-6 2,24 2,-17 1,-18 2,11 1,-7 2,11 2,-11 1,-6 2,-14 1,20 2,-6 2,-10 1,-14 2,28 1,7 2,-24 2,-8 1,-37 2,32 1,13 2,-38 2,20 1,8 2,-1 1,17 2,-59 2,-8 1,16 2,-9 1,17 2,-14 2,24 1,4 2,-17 1,26 2,-35 2,6 1,-21 2,-3 1,52 2,-45 2,4 1,-15 2,22 1,-13 2,-4 2,2 1,7 2,1 1,-21 2,8 2,-31 1,12 2,29 1,-28 2,8 2,-16 1,27 2,-25 1,19 2,29 2,-37 1,14 2,-13 1,-14 2,4 2,20 1,-22 2,4 1,-15 2,29 2,6 1,8 2,-31 1,-16 2,32 2,-1 1,-19 2,34 1,-17 2,-13 2,42 1,-32 2,3 1,-4 2,-4 2,23 1,13 2,0 1,-16 2,1 2,8 1,15 2,-19 1,16 2,-30 2,16 1,6 2,-6 1,-4 2,2 2,20 1,-9 2,0 1,-17 2,4 2,10 1,-29 2,38 1,0 2,5 2,-9 1,8 2,-19 1,18 2,3 2,5 1,5 2,3 1,-25 2,22 2,-11 1,-3 2,2 1,3 2,22 2,-3 1,-21 2,-34 1,51 2,11 2,-6 1,-41 2,30 1,4 2,-23 2,39 1,16 2,-17 1,-8 2,0 2,23 1,12 2,-18 1,0 2,-6 2,20 1,-13 2,1 1,-20 2,19 2,4 1,-4 2,-24 1,29 2,-21 2,23 1,7 2,-6 1,6 2,-11 2,13 1,-11 2,-5 1,24 2,4 2,-5 1,-6 2,-4 1,26 2,-53 2,32 1,0 2,16 1,-38 2,20 2,-22 1,46 2,-26 1,0 2,14 2,9 1,1 2,10 1,-26 2,35 2,-10 1,-11 2,-21 1,25 2,-13 2,62 1,-36 2,-10 1,0 2,-4 2,16 1,1 2,2 1,-8 2,16 2,-9 1,-40 2,16 1,-3 2,14 2,0 1,31 2,-12 1,-15 2,23 2,-28 1,0 2,15 1,37 2,-62 2,20 1,14 2,0 1,-9 2,24 2,5 1,-29 2,2 1,2 2,14 2,-4 1,-15 2,19 1,5 2,2 2,-21 1,9 2,19 1,-9 2,33 2,-40 1,14 2,-8 1,15 2,-7 2,-15 1,10 2,-10 1,19 2,34 2,-53 1,34 2,-8 1,5 2,12 2,-6 1,-2 2,-2 1,2 2,-24 2,13 1,3 2,-4 1,28 2,-10 2,21 1,-33 2,16 1,23 2,-40 2,16 1,-6 2,7 1,-6 2,11 2,-3 1,-9 2,-4 1,14 2,26 2,-23 1,12 2,-3 1,-10 2,13 2,1 1,-7 2,11 1,2 2,-8 2,-1 1,-14 2,24 1,4 2,7 2,-5 1,8 2,-8 1,8 2,-13 2,14 1,-17 2,27 1,-3 2,-15 2,17 1,1 2,-14 1,0 2,27 2,-5 1,-5 2,3 1,5 2,-12 2,22 1,-35 2,47 1,-16 2,-8 2,3 1,26 2,-33 1,16 2,21 2,-24 1,18 2,-18 1,20 2,-15 2,9 1,15 2,-11 1,9 2,-9 2,10 1,-9 2,11 1,-10 2,12 2,9 1,2 2,10 1,-21 2,17 2,-5 1,4 2,13 1,4 2,-6 2,3 1,-11 2,-17 1,6 2,14 2,7 1,-1 2,1 1,9 2,-6 2,-6 1,-14 2,25 1,-16 2,-1 2,-5 1,13 2,-1 1,3 2,-6 2,11 1,-3 2,3 1,-3 2,4 2,-3 1,18 2,-5 1,-3 2,-4 2,1 1,7 2,-6 1,14 2,-6 2,3 1,6 2,4 1,-3 2,-12 2,4 1,32 2,-52 1,12 2,14 2,-8 1,1 2,-8 1,8 2,12 2,-13 1,2 2,-5 1,-1 2,13 2,-9 1,11 2,3 1,14 2,-31 2,20 1,-35 2,22 1,4 2,-11 2,12 1,0 2,6 1,-5 2,13 2,-13 1,7 2,-7 1,10 2,-14 2,12 1,0 2,-17 1,11 2,9 2,-18 1,6 2,5 1,-1 2,13 2,-12 1,-3 2,1 1,6 2,-14 2,1 1,4 2,19 1,-6 2,-3 2,19 1,-8 2,-13 1,-2 2,23 2,-18 1,-2 2,-5 1,17 2,-24 2,24 1,-12 2,9 1,-15 2,8 2,2 1,-14 2,12 1,0 2,11 2,-16 1,-1 2,11 1,-2 2,5 2,-1 1,-7 2,12 1,-5 2,-5 2,-5 1,8 2,-12 1,13 2,3 2,6 1,1 2,-19 1,8 2,2 2,8 1,0 2,-18 1,12 2,4 2,-8 1,7 2,1 1,-15 2,10 2,2 1,8 2,-10 1,7 2,11 2,-20 1,4 2,-3 1,-1 2,17 2,-16 1,15 2,-13 1,13 2,-9 2,10 1,-16 2,-3 1,25 2,-14 2,-9 1,-7 2,23 1,-10 2,1 2,-4 1,-7 2,9 1,1 2,-6 2,10 1,0 2,-12 1,6 2,-1 2,2 1,9 2,-30 1,12 2,9 2,4 1,-40 2,33 1,6 2,-10 2,3 1,-5 2,-4 1,2 2,-13 2,24 1,-4 2,-3 1,-4 2,9 2,-10 1,-7 2,3 1,-8 2,10 2,-4 1,5 2,-7 1,11 2,-9 2,18 1,-6 2,-7 1,-3 2,1 2,1 1,-12 2,9 1,-6 2,13 2,-8 1,2 2,0 1,4 2,-21 2,8 1,11 2,3 1,-5 2,3 2,-8 1,-31 2,33 1,-18 2,11 2,-9 1,12 2,-15 1,13 2,-17 2,1 1,-4 2,10 1,7 2,-27 2,10 1,-5 2,21 1,-9 2,1 2,4 1,-3 2,-10 1,7 2,0 2,-19 1,12 2,-11 1,24 2,-3 2,23 1,-9 2,-21 1,2 2,-4 2,-11 1,8 2,-4 1,1 2,-16 2,0 1,28 2,-27 1,8 2,3 2,2 1,-17 2,32 1,-25 2,0 2,11 1,7 2,-4 1,-9 2,7 2,6 1,-13 2,-1 1,5 2,-16 2,5 1,-4 2,2 1,-9 2,17 2,7 1,-17 2,-6 1,1 2,3 2,24 1,-30 2,17 1,-11 2,8 2,-9 1,1 2,11 1,-8 2,-9 2,5 1,0 2,-6 1,-2 2,-1 2,23 1,-14 2,12 1,-21 2,4 2,19 1,-14 2,2 1,-4 2,-1 2,0 1,3 2,9 1,-2 2,-17 2,1 1,9 2,3 1,-7 2,-11 2,-3 1,11 2,2 1,-5 2,-3 2,6 1,2 2,14 1,-4 2,-15 2,-4 1,4 2,14 1,-6 2,-2 2,-9 1,9 2,-7 1,-8 2,20 2,0 1,-7 2,14 1,-16 2,-6 2,-16 1,39 2,-18 1,1 2,-8 2,2 1,4 2,-1 1,-17 2,15 2,3 1,5 2,-18 1,4 2,13 2,1 1,-7 2,3 1,0 2,8 2,6 1,-22 2,11 1,-3 2,-21 2,29 1,9 2,-27 1,8 2,20 2,-25 1,8 2,5 1,-1 2,12 2,-31 1,8 2,4 1,12 2,-17 2,17 1,-15 2,11 1,7 2,-45 2,45 1,-12 2,5 1,-9 2,10 2,4 1,-2 2,6 1,-13 2,5 2,6 1,-32 2,62 1,-33 2,-7 2,24 1,-10 2,4 1,-8 2,2 2,1 1,-6 2,10 1,-1 2,-4 2,12 1,0 2,10 1,-18 2,1 2,0 1,7 2,0 1,4 2,-15 2,11 1,-5 2,0 1,22 2,-18 2,-5 1,9 2,7 1,1 2,-18 2,1 1,-3 2,35 1,-19 2,-7 2,5 1,5 2,4 1,-9 2,2 2,0 1,-6 2,5 1,-4 2,9 2,-10 1,28 2,-19 1,9 2,9 2,-10 1,-7 2,13 1,-20 2,23 2,-17 1,0 2,6 1,-14 2,6 2,19 1,-7 2,1 1,0 2,-2 2,-10 1,15 2,17 1,10 2,-40 2,-10 1,22 2,-11 1,19 2,-5 2,14 1,-13 2,0 1,2 2,-9 2,19 1,-17 2,3 1,3 2,15 2,-8 1,-4 2,12 1,-9 2,-6 2,6 1,-6 2,0 1,5 2,3 2,6 1,-7 2,2 1,1 2,0 2,-5 1,7 2,11 1,-21 2,8 2,22 1,-14 2,-7 1,-2 2,8 2,6 1,-4 2,1 1,1 2,7 2,-4 1,-21 2,24 1,-16 2,2 2,24 1,-14 2,2 1,-12 2,7 2,9 1,-12 2,11 1,-25 2,-16 2,32 1,21 2,-2 1,-12 2,-4 2,9 1,-3 2,-12 1,20 2,-16 2,-18 1,25 2,-1 1,0 2,11 2,-17 1,14 2,-24 1,22 2,-9 2,12 1,-23 2,14 1,-1 2,-6 2,15 1,-19 2,23 1,1 2,5 2,-30 1,23 2,-2 1,-5 2,1 2,2 1,-22 2,25 1,-3 2,5 2,6 1,3 2,-7 1,-2 2,-4 2,-2 1,2 2,3 1,13 2,-6 2,-4 1,-8 2,-12 1,21 2,-4 2,-5 1,-1 2,12 1,3 2,-1 2,-6 1,12 2,-24 1,13 2,-2 2,8 1,5 2,-7 1,-14 2,21 2,-10 1,6 2,-8 1,12 2,0 2,-12 1,5 2,-2 1,-8 2,0 2,3 1,8 2,-4 1,11 2,-9 2,7 1,3 2,-26 1,-3 2,18 2,4 1,2 2,-3 1,7 2,-4 2,10 1,-6 2,-13 1,5 2,11 2,-11 1,-3 2,29 1,-18 2,5 2,-10 1,8 2,-8 1,12 2,-7 2,-3 1,12 2,-12 1,16 2,-5 2,5 1,-13 2,2 1,12 2,-2 2,-9 1,-8 2,2 1,3 2,-13 2,19 1,9 2,-18 1,6 2,-2 2,11 1,-3 2,-14 1,1 2,3 2,6 1,0 2,0 1,4 2,-6 2,-2 1,5 2,3 1,-3 2,-5 2,2 1,-9 2,4 1,4 2,6 2,-5 1,-4 2,-1 1,18 2,-20 2,8 1,-9 2,10 1,-1 2,3 2,-16 1,16 2,-2 1,-3 2,-4 2,-1 1,23 2,-27 1,4 2,-2 2,22 1,-11 2,-7 1,10 2,-3 2,6 1,-12 2,5 1,-8 2,0 2,13 1,19 2,-22 1,-8 2,4 2,6 1,7 2,-7 1,-17 2,13 2,1 1,-9 2,-1 1,8 2,-5 2,5 1,-10 2,5 1,1 2,22 2,-9 1,-37 2,27 1,7 2,-2 2,-9 1,4 2,-4 1,12 2,-14 2,8 1,-5 2,2 1,18 2,-21 2,-2 1,4 2,-4 1,14 2,17 2,-22 1,5 2,-11 1,-2 2,2 2,-21 1,19 2,26 1,-13 2,-15 2,11 1,4 2,-8 1,-8 2,21 2,-17 1,-14 2,24 1,13 2,-14 2,-11 1,-1 2,0 1,10 2,5 2,-18 1,1 2,-7 1,18 2,-8 2,13 1,-13 2,1 1,6 2,-6 2,10 1,-7 2,-4 1,-1 2,-3 2,-1 1,0 2,4 1,11 2,-11 2,16 1,-16 2,2 1,7 2,5 2,-6 1,-3 2,-7 1,9 2,1 2,10 1,0 2,-29 1,7 2,8 2,11 1,11 2,-23 1,-13 2,8 2,5 1,0 2,17 1,-28 2,13 2,-17 1,5 2,7 1,4 2,-12 2,5 1,-18 2,25 1,6 2,-14 2,10 1,-6 2,7 1,-11 2,-4 2,12 1,-11 2,9 1,7 2,-3 2,-2 1,-5 2,-2 1,-11 2,13 2,18 1,-7 2,-4 1,-14 2,-4 2,21 1,-8 2,1 1,-2 2,4 2,3 1,3 2,-9 1,-4 2,-6 2,13 1,-3 2,-3 1,1 2,-9 2,13 1,-6 2,24 1,-22 2,-4 2,9 1,-5 2,16 1,-13 2,-9 2,17 1,4 2,-13 1,-11 2,6 2,11 1,-11 2,8 1,8 2,0 2,-5 1,-17 2,13 1,4 2,20 2,-8 1,-7 2,6 1,-9 2,-7 2,12 1,-7 2,-4 1,-12 2,23 2,-7 1,-5 2,8 1,-13 2,11 2,2 1,2 2,1 1,-5 2,5 2,-11 1,5 2,9 1,11 2,-20 2,0 1,20 2,-4 1,-6 2,18 2,-18 1,-5 2,7 1,-8 2,6 2,11 1,-4 2,-1 1,22 2,-25 2,1 1,3 2,-6 1,13 2,-7 2,2 1,11 2,-1 1,-9 2,0 2,1 1,8 2,-2 1,-25 2,15 2,8 1,2 2,15 1,-23 2,3 2,-12 1,27 2,-10 1,-7 2,0 2,3 1,2 2,2 1,-3 2,-4 2,-9 1,9 2,-6 1,-7 2,19 2,4 1,-7 2,11 1,-5 2,-3 2,4 1,-11 2,9 1,-5 2,5 2,3 1,2 2,-5 1,2 2,2 2,-2 1,0 2,3 1,-13 2,-1 2,19 1,1 2,-12 1,-8 2,8 2,5 1,3 2,11 1,-14 2,6 2,6 1,-12 2,-2 1,-4 2,-5 2,13 1,-1 2,6 1,-13 2,4 2,-2 1,5 2,7 1,-3 2,-7 2,-1 1,14 2,-10 1,5 2,-14 2,18 1,-8 2,3 1,-3 2,5 2,5 1,-1 2,-3 1,-14 2,19 2,-6 1,-4 2,15 1,-3 2,-4 2,9 1,-2 2,-3 1,-10 2,-1 2,6 1,-6 2,10 1,-9 2,5 2,-3 1,1 2,0 1,-3 2,20 2,-12 1,19 2,-20 1,-5 2,-9 2,13 1,4 2,-13 1,13 2,6 2,-1 1,-12 2,8 1,2 2,-3 2,-2 1,-3 2,6 1,8 2,-12 2,8 1,-5 2,3 1,-19 2,19 2,-3 1,7 2,-7 1,4 2,-2 2,-3 1,-4 2,17 1,-8 2,-11 2,12 1,6 2,-9 1,13 2,-16 2,8 1,-12 2,10 1,-11 2,7 2,5 1,0 2,0 1,-12 2,13 2,1 1,-7 2,3 1,0 2,13 2,-14 1,0 2,9 1,-17 2,20 2,0 1,-6 2,-14 1,19 2,-3 2,-4 1,1 2,11 1,-13 2,-8 2,10 1,1 2,7 1,-3 2,-8 2,5 1,-6 2,15 1,-14 2,0 2,8 1,-22 2,19 1,1 2,3 2,2 1,6 2,-13 1,-7 2,13 2,-1 1,-11 2,9 1,7 2,-11 2,4 1,10 2,-7 1,1 2,-4 2,0 1,-1 2,-1 1,3 2,4 2,-6 1,19 2,-19 1,4 2,1 2,6 1,-18 2,5 1,-3 2,2 2,8 1,-10 2,8 1,2 2,-5 2,8 1,-10 2,0 1,3 2,6 2,-16 1,11 2,3 1,5 2,-8 2,-11 1,15 2,-4 1,-3 2,11 2,5 1,-20 2,10 1,15 2,-20 2,12 1,4 2,-9 1,-9 2,10 2,1 1,-1 2,-11 1,0 2,-1 2,4 1,11 2,-8 1,5 2,-5 2,12 1,-1 2,-3 1,-1 2,-1 2,-1 1,-16 2,5 1,2 2,14 2,-2 1,-4 2,-20 1,20 2,-4 2,-5 1,15 2,-8 1,7 2,-21 2,16 1,2 2,2 1,-6 2,3 2,2 1,-2 2,-5 1,9 2,6 2,-3 1,-5 2,2 1,-5 2,9 2,-7 1,-5 2,4 1,-6 2,6 2,-15 1,11 2,6 1,0 2,6 2,-9 1,1 2,17 1,-13 2,-29 2,48 1,-23 2,1 1,-2 2,-9 2,13 1,-8 2,17 1,-12 2,7 2,-5 1,-1 2,-3 1,-7 2,7 2,3 1,-7 2,15 1,-8 2,1 2,21 1,-29 2,6 1,8 2,-6 2,6 1,-5 2,2 1,6 2,-14 2,6 1,12 2,-16 1,20 2,-15 2,2 1,-10 2,15 1,-14 2,11 2,-3 1,-4 2,0 1,5 2,-4 2,1 1,-1 2,0 1,-1 2,2 2,9 1,-11 2,3 1,1 2,0 2,1 1,-6 2,7 1,-4 2,5 2,5 1,-19 2,12 1,-13 2,10 2,-6 1,8 2,0 1,4 2,-3 2,1 1,0 2,-7 1,4 2,14 2,-9 1,-16 2,7 1,9 2,4 2,-8 1,5 2,5 1,-7 2,-13 2,12 1,-2 2,11 1,-19 2,0 2,15 1,1 2,-6 1,30 2,-28 2,-4 1,-7 2,6 1,4 2,18 2,-5 1,-3 2,-10 1,-5 2,10 2,8 1,-6 2,-5 1,-7 2,1 2,8 1,-3 2,5 1,-9 2,-9 2,17 1,-5 2,14 1,-8 2,-14 2,2 1,6 2,3 1,1 2,-1 2,-12 1,12 2,1 1,-15 2,15 2,3 1,-1 2,2 1,1 2,-6 2,-13 1,-2 2,17 1,-14 2,9 2,1 1,0 2,1 1,-3 2,14 2,-25 1,18 2,7 1,-3 2,-16 2,17 1,-16 2,11 1,0 2,-4 2,6 1,8 2,-16 1,3 2,14 2,-15 1,9 2,-5 1,5 2,-16 2,15 1,4 2,-11 1,7 2,4 2,-7 1,12 2,-12 1,5 2,-7 2,-9 1,10 2,-8 1,9 2,3 2,4 1,-3 2,-16 1,25 2,-17 2,8 1,-8 2,6 1,0 2,5 2,0 1,-19 2,16 1,10 2,-9 2,-16 1,5 2,14 1,5 2,-12 2,12 1,-14 2,10 1,-12 2,10 2,-3 1,4 2,-15 1,32 2,-18 2,5 1,0 2,-6 1,10 2,-5 2,-5 1,2 2,-3 1,-2 2,6 2,7 1,-8 2,-6 1,4 2,-10 2,17 1,-6 2,0 1,9 2,3 2,-11 1,2 2,4 1,2 2,-8 2,-1 1,1 2,-5 1,11 2,-13 2,7 1,2 2,-1 1,3 2,-5 2,1 1,-5 2,0 1,11 2,2 2,-8 1,0 2,6 1,-6 2,9 2,-6 1,-4 2,2 1,5 2,-7 2,-11 1,10 2,0 1,7 2,-4 2,-2 1,16 2,-5 1,-8 2,1 2,-3 1,8 2,6 1,-7 2,-8 2,4 1,10 2,-14 1,-7 2,4 2,15 1,-1 2,0 1,0 2,-8 2,4 1,1 2,-7 1,10 2,1 2,-13 1,13 2,-1 1,-11 2,13 2,-2 1,-8 2,20 1,-10 2,-6 2,4 1,-8 2,5 1,-3 2,6 2,4 1,-6 2,-13 1,8 2,-2 2,11 1,-10 2,17 1,-9 2,-9 2,-4 1,15 2,-3 1,-10 2,9 2,4 1,-5 2,7 1,-10 2,6 2,0 1,3 2,-6 1,-2 2,7 2,-9 1,2 2,4 1,-5 2,-4 2,5 1,7 2,-4 1,6 2,9 2,-17 1,7 2,8 1,-16 2,11 2,0 1,-23 2,12 1,12 2,-10 2,9 1,-1 2,-10 1,1 2,13 2,-15 1,6 2,1 1,8 2,0 2,-11 1,-6 2,6 1,2 2,-18 2,23 1,2 2,-3 1,-4 2,10 2,1 1,-26 2,16 1,-12 2,2 2,11 1,-2 2,2 1,-7 2,9 2,-5 1,-1 2,3 1,-7 2,20 2,-16 1,4 2,1 1,3 2,-1 2,-2 1,-6 2,6 1,1 2,-10 2,13 1,-10 2,0 1,3 2,11 2,-6 1,9 2,-15 1,-5 2,12 2,-7 1,-7 2,9 1,8 2,0 2,-22 1,21 2,-6 1,-3 2,9 2,-9 1,1 2,10 1,-5 2,-3 2,3 1,6 2,-6 1,3 2,-11 2,3 1,6 2,1 1,-22 2,22 2,-7 1,-7 2,16 1,-10 2,0 2,2 1,-7 2,6 1,-14 2,18 2,-13 1,15 2,-4 1,-2 2,7 2,-6 1,5 2,-5 1,12 2,-17 2,3 1,6 2,-3 1,-1 2,-5 2,7 1,10 2,-12 1,9 2,-4 2,-7 1,-1 2,6 1,-1 2,8 2,-8 1,5 2,0 1,-6 2,6 2,3 1,-15 2,15 1,-2 2,2 2,-12 1,11 2,-10 1,-1 2,2 2,6 1,0 2,2 1,4 2,-9 2,-5 1,13 2,-4 1,-15 2,4 2,14 1,-5 2,0 1,2 2,-5 2,6 1,-9 2,-3 1,14 2,-5 2,-1 1,-1 2,4 1,-9 2,13 2,-3 1,3 2,-12 1,22 2,-20 2,8 1,4 2,-1 1,-9 2,1 2,-7 1,8 2,-2 1,-5 2,20 2,-16 1,2 2,1 1,-5 2,11 2,-7 1,2 2,4 1,-9 2,8 2,-10 1,6 2,0 1,1 2,-18 2,24 1,-17 2,11 1,0 2,-6 2,2 1,-3 2,16 1,-12 2,5 2,-1 1,5 2,-5 1,8 2,-10 2,-2 1,-3 2,12 1,-3 2,-15 2,11 1,7 2,-7 1,3 2,-2 2,-1 1,0 2,-1 1,3 2,-2 2,15 1,-9 2,-10 1,4 2,0 2,-3 1,5 2,2 1,4 2,-7 2,4 1,2 2,-5 1,4 2,-1 2,10 1,-4 2,-11 1,4 2,-10 2,13 1,-2 2,4 1,-9 2,14 2,-26 1,21 2,-7 1,3 2,1 2,-12 1,4 2,11 1,-2 2,3 2,1 1,-11 2,-21 1,24 2,2 2,5 1,-8 2,5 1,2 2,-9 2,0 1,-5 2,6 1,14 2,-8 2,4 1,-10 2,3 1,-5 2,7 2,-5 1,3 2,3 1,-13 2,1 2,16 1,-3 2,0 1,-9 2,11 2,-5 1,12 2,-10 1,0 2,-5 2,9 1,-4 2,9 1,-13 2,1 2,-4 1,5 2,3 1,-10 2,1 2,10 1,1 2,2 1,1 2,-17 2,8 1,7 2,-4 1,-2 2,7 2,-11 1,-2 2,18 1,-23 2,7 2,1 1,4 2,-4 1,7 2,1 2,-7 1,9 2,-2 1,-1 2,0 2,-10 1,1 2,4 1,3 2,2 2,-5 1,9 2,-20 1,11 2,4 2,0 1,0 2,-5 1,7 2,-22 2,5 1,19 2,-22 1,10 2,3 2,4 1,-1 2,-4 1,3 2,6 2,-1 1,-6 2,-16 1,23 2,-6 2,0 1,-2 2,2 1,-1 2,-1 2,10 1,-7 2,-2 1,3 2,-9 2,13 1,2 2,-1 1,6 2,-13 2,1 1,-8 2,16 1,-4 2,-9 2,4 1,-3 2,1 1,-1 2,1 2,-6 1,6 2,-3 1,4 2,-25 2,26 1,4 2,2 1,-5 2,4 2,-11 1,4 2,9 1,9 2,-19 2,3 1,-4 2,2 1,13 2,-13 2,0 1,0 2,12 1,-13 2,7 2,0 1,3 2,-12 1,8 2,6 2,-14 1,1 2,5 1,-5 2,10 2,-5 1,-5 2,5 1,0 2,-7 2,34 1,-22 2,-9 1,8 2,-1 2,-5 1,0 2,7 1,4 2,-10 2,14 1,-16 2,5 1,-2 2,-5 2,15 1,-5 2,3 1,-9 2,4 2,-1 1,-2 2,-8 1,9 2,11 2,-12 1,-4 2,3 1,9 2,-4 2,-13 1,6 2,15 1,-9 2,-3 2,1 1,1 2,-9 1,5 2,1 2,5 1,1 2,-4 1,7 2,-11 2,7 1,-9 2,7 1,1 2,-1 2,2 1,10 2,-12 1,-3 2,8 2,-1 1,3 2,-18 1,19 2,-14 2,-2 1,6 2,4 1,-8 2,2 2,1 1,1 2,6 1,-6 2,5 2,-2 1,-10 2,4 1,9 2,-6 2,-2 1,2 2,3 1,0 2,-2 2,-8 1,18 2,-6 1,-17 2,18 2,7 1,-11 2,-2 1,1 2,2 2,5 1,-2 2,1 1,0 2,-3 2,-4 1,-5 2,4 1,2 2,-2 2,4 1,-12 2,18 1,-9 2,3 2,-5 1,0 2,9 1,-14 2,11 2,-6 1,2 2,2 1,6 2,-12 2,12 1,-16 2,7 1,2 2,-1 2,1 1,-1 2,10 1,-12 2,1 2,11 1,-7 2,0 1,-1 2,5 2,-3 1,-2 2,-2 1,6 2,-1 2,5 1,-10 2,13 1,-9 2,2 2,-11 1,0 2,4 1,11 2,-8 2,4 1,-4 2,3 1,-9 2,-4 2,16 1,-11 2,10 1,-9 2,3 2,-1 1,13 2,-8 1,2 2,-1 2,-3 1,-3 2,6 1,15 2,-25 2,0 1,11 2,-6 1,9 2,-15 2,0 1,3 2,-3 1,10 2,-7 2,1 1,-7 2,11 1,7 2,7 2,-12 1,-7 2,8 1,6 2,-6 2,-1 1,-1 2,3 1,3 2,-10 2,-8 1,20 2,-7 1,-5 2,2 2,4 1,-4 2,1 1,-2 2,11 2,-13 1,3 2,0 1,4 2,-1 2,1 1,-7 2,-5 1,5 2,8 2,-6 1,5 2,-9 1,9 2,-5 2,0 1,11 2,-7 1,4 2,-8 2,3 1,-18 2,11 1,10 2,-10 2,12 1,-2 2,-3 1,2 2,6 2,-12 1,-4 2,6 1,0 2,8 2,-9 1,-5 2,15 1,-7 2,-2 2,5 1,0 2,-7 1,-3 2,11 2,-2 1,-6 2,-3 1,5 2,-3 2,15 1,-8 2,-4 1,-7 2,-5 2,6 1,5 2,12 1,-1 2,-14 2,-7 1,19 2,-10 1,1 2,-11 2,18 1,-16 2,9 1,-4 2,7 2,-7 1,0 2,5 1,7 2,-2 2,8 1,-19 2,8 1,-4 2,-14 2,20 1,-1 2,-1 1,0 2,-5 2,5 1,2 2,1 1,0 2,4 2,-8 1,8 2,-16 1,7 2,19 2,-25 1,7 2,4 1,-5 2,0 2,-7 1,-6 2,13 1,7 2,-5 2,-8 1,4 2,5 1,-9 2,3 2,15 1,-12 2,3 1,4 2,6 2,-10 1,7 2,3 1,-13 2,-1 2,-1 1,2 2,4 1,-21 2,8 2,7 1,15 2,-13 1,-1 2,-3 2,6 1,4 2,-10 1,7 2,0 2,-5 1,1 2,2 1,2 2,-4 2,0 1,8 2,-24 1,24 2,-2 2,-3 1,10 2,-7 1,-9 2,6 2,3 1,0 2,2 1,-1 2,-13"/>
<path fill="none" stroke="#EE0685" stroke-width="22" stroke-linejoin="round" d="M513,1326l2,12 1,-17 2,5 1,-9 2,9 2,-12 1,8 2,-10 1,8 2,4 2,-15 1,-8 2,1 1,6 2,13 2,-23 1,4 2,7 1,-9 2,1 2,-10 1,11 2,-1 1,-12 2,-1 2,9 1,-7 2,-12 1,12 2,-7 2,8 1,9 2,-14 1,1 2,3 2,-18 1,21 2,-15 1,8 2,-8 2,-11 1,12 2,-18 1,11 2,-1 2,6 1,-15 2,-12 1,21 2,-13 2,0 1,4 2,0 1,-5 2,3 2,-4 1,2 2,-17 1,7 2,-5 2,-1 1,2 2,-2 1,8 2,-6 2,10 1,-9 2,-10 1,12 2,-6 2,9 1,-37 2,7 1,12 2,-19 2,11 1,-5 2,10 1,-9 2,-16 2,10 1,7 2,1 1,-16 2,4 2,-2 1,-2 2,3 1,4 2,-11 2,-9 1,7 2,-10 1,4 2,-9 2,0 1,-2 2,-6 1,-1 2,-5 2,11 1,-8 2,-8 1,-7 2,13 2,-7 1,-25 2,38 1,-19 2,-6 2,5 1,-11 2,3 1,3 2,-13 2,4 1,-13 2,6 1,2 2,2 2,-6 1,6 2,6 1,-18 2,-2 2,-8 1,9 2,3 1,0 2,-27 2,31 1,-25 2,21 1,-28 2,20 2,-45 1,41 2,-15 1,-7 2,14 2,-4 1,-8 2,6 1,-13 2,-6 2,14 1,-4 2,-13 1,10 2,5 2,6 1,-37 2,27 1,-6 2,-6 2,-5 1,10 2,-42 1,27 2,1 2,-8 1,7 2,-14 1,-13 2,10 2,1 1,-18 2,13 1,-12 2,-2 2,-13 1,19 2,-10 1,-26 2,19 2,1 1,-9 2,6 1,-11 2,1 2,-9 1,10 2,-14 1,-20 2,-4 2,7 1,13 2,-23 1,13 2,21 2,-37 1,7 2,-12 1,-4 2,-7 2,20 1,-24 2,-3 1,-14 2,30 2,-49 1,27 2,5 1,-17 2,-44 2,30 1,-5 2,10 1,-2 2,-30 2,-6 1,22 2,-32 1,8 2,6 2,-13 1,4 2,-11 1,7 2,-40 2,3 1,23 2,-15 1,5 2,-17 2,-17 1,20 2,-47 1,13 2,28 2,-15 1,-69 2,48 1,-8 2,-8 2,-19 1,-26 2,-5 1,30 2,-13 2,-26 1,-24 2,2 1,-2 2,16 2,-23 1,-3 2,-9 1,2 2,-5 2,-24 1,3 2,-37 1,0 2,42 2,-17 1,-22 2,1 1,-44 2,39 2,-15 1,-23 2,75 1,-74 2,7 2,-21 1,63 2,-56 1,-30 2,12 2,68 1,-71 2,32 1,-25 2,42 2,-30 1,4 2,1 1,-62 2,-27 2,35 1,-24 2,-10 1,0 2,8 2,5 1,-7 2,-20 1,13 2,-6 2,12 1,-10 2,-41 1,-1 2,24 2,-38 1,71 2,-63 1,32 2,10 2,-84 1,17 2,-4 1,5 2,4 2,25 1,16 2,-64 1,76 2,-31 2,-29 1,-32 2,17 1,-5 2,-3 2,7 1,17 2,-25 1,-29 2,-9 2,-4 1,13 2,-36 1,33 2,-18 2,1 1,-20 2,66 1,-17 2,5 2,-34 1,59 2,-67 1,-35 2,51 2,11 1,4 2,-13 1,8 2,5 2,-13 1,34 2,-59 1,22 2,61 2,-107 1,34 2,7 1,-27 2,31 2,10 1,-25 2,54 1,-4 2,-22 2,2 1,12 2,-17 1,-10 2,34 2,2 1,-16 2,30 1,-24 2,-74 2,153 1,-47 2,1 1,-4 2,8 2,13 1,-12 2,-77 1,74 2,4 2,21 1,-2 2,6 1,-6 2,12 2,-31 1,0 2,4 1,23 2,12 2,-11 1,5 2,6 1,12 2,15 2,-29 1,-3 2,11 1,36 2,-58 2,28 1,13 2,-4 1,4 2,-28 2,21 1,27 2,75 1,-115 2,36 2,32 1,-58 2,52 1,-34 2,22 2,3 1,1 2,-61 1,76 2,18 2,-54 1,56 2,-38 1,10 2,2 2,4 1,0 2,11 1,-25 2,9 2,35 1,-27 2,7 1,10 2,-22 2,3 1,61 2,-80 1,45 2,63 2,-74 1,-17 2,35 1,-49 2,42 2,-8 1,23 2,2 1,5 2,-22 2,48 1,-43 2,17 1,31 2,43 2,-52 1,3 2,-6 1,1 2,16 2,-21 1,32 2,-33 1,13 2,-20 2,35 1,10 2,-21 1,5 2,22 2,-19 1,18 2,10 1,17 2,-38 2,54 1,-34 2,23 1,14 2,-20 2,22 1,-6 2,-18 1,-12 2,35 2,20 1,-31 2,10 1,-5 2,31 2,23 1,-33 2,0 1,19 2,13 2,-20 1,-18 2,-14 1,57 2,-1 2,-53 1,46 2,-21 1,31 2,-8 2,-30 1,59 2,25 1,-14 2,-49 2,25 1,35 2,-26 1,1 2,12 2,2 1,5 2,4 1,-10 2,-34 2,46 1,-12 2,-18 1,51 2,-21 2,37 1,-21 2,23 1,-20 2,0 2,5 1,-2 2,-1 1,8 2,9 2,-8 1,1 2,6 1,43 2,-26 2,6 1,-1 2,9 1,-27 2,27 2,17 1,-6 2,-6 1,-21 2,20 2,-16 1,10 2,4 1,-1 2,31 2,-37 1,-6 2,31 1,6 2,26 2,-22 1,-9 2,38 1,-27 2,-18 2,58 1,-39 2,13 1,11 2,1 2,1 1,-5 2,-6 1,30 2,-2 2,-7 1,8 2,-9 1,8 2,20 2,-13 1,24 2,-26 1,17 2,-15 2,30 1,-11 2,7 1,28 2,-36 2,13 1,-3 2,-6 1,13 2,5 2,-15 1,-5 2,7 1,42 2,-17 2,-1 1,3 2,-4 1,-1 2,19 2,-24 1,12 2,-13 1,12 2,5 2,10 1,-14 2,-8 1,39 2,-21 2,-15 1,46 2,-30 1,25 2,-22 2,29 1,-16 2,11 1,-15 2,25 2,-10 1,25 2,-8 1,-17 2,8 2,14 1,0 2,-19 1,28 2,-14 2,-7 1,28 2,-27 1,-40 2,47 2,8 1,14 2,-8 1,-17 2,22 2,-33 1,28 2,-5 1,6 2,8 2,-12 1,7 2,10 1,-6 2,-27 2,27 1,-10 2,26 1,2 2,-2 2,5 1,-17 2,-12 1,-19 2,49 2,-7 1,6 2,10 1,-28 2,-8 2,29 1,6 2,6 1,-1 2,-1 2,-8 1,1 2,8 1,-1 2,0 2,-8 1,14 2,-14 1,-3 2,9 2,10 1,10 2,-3 1,-13 2,11 2,-5 1,-10 2,48 1,-34 2,-4 2,-1 1,12 2,-4 1,5 2,-1 2,33 1,-39 2,6 1,8 2,0 2,14 1,-14 2,2 1,9 2,-5 2,-8 1,26 2,-7 1,-25 2,25 2,-2 1,-5 2,-8 1,7 2,-9 2,-4 1,27 2,-19 1,14 2,-4 2,-15 1,12 2,23 1,-27 2,9 2,-31 1,31 2,-2 1,-4 2,23 2,-17 1,3 2,-3 1,6 2,4 2,-1 1,20 2,-22 1,0 2,12 2,-11 1,-1 2,3 1,15 2,-19 2,5 1,20 2,-10 1,-3 2,8 2,3 1,-17 2,19 1,-13 2,-14 2,14 1,13 2,1 1,-20 2,17 2,-12 1,15 2,-19 1,1 2,7 2,4 1,-4 2,3 1,2 2,5 2,11 1,-11 2,-7 1,16 2,-15 2,8 1,-8 2,-13 1,9 2,15 2,10 1,-21 2,-8 1,10 2,0 2,20 1,-30 2,15 1,-7 2,-12 2,6 1,-9 2,-6 1,18 2,-10 2,8 1,-9 2,9 1,-3 2,10 2,-19 1,21 2,-22 1,8 2,4 2,14 1,-19 2,4 1,2 2,0 2,6 1,-9 2,4 1,-4 2,0 2,2 1,12 2,-6 1,3 2,-14 2,25 1,-13 2,-10 1,-11 2,3 2,1 1,3 2,-4 1,15 2,-17 2,1 1,18 2,-21 1,9 2,-10 2,-2 1,9 2,-5 1,-2 2,-18 2,26 1,-12 2,8 1,-3 2,-6 2,10 1,-17 2,12 1,-12 2,13 2,3 1,1 2,-12 1,-9 2,5 2,16 1,-11 2,5 1,-13 2,9 2,-14 1,9 2,0 1,3 2,4 2,6 1,-18 2,9 1,6 2,-21 2,11 1,7 2,-38 1,14 2,12 2,9 1,-7 2,-7 1,12 2,-16 2,10 1,18 2,-15 1,-10 2,27 2,-22 1,-1 2,-9 1,6 2,-13 2,14 1,1 2,15 1,-22 2,4 2,18 1,-16 2,-11 1,11 2,-15 2,5 1,1 2,11 1,-15 2,3 2,-2 1,-1 2,15 1,-13 2,-17 2,8 1,4 2,-13 1,32 2,-13 2,-13 1,9 2,-9 1,9 2,0 2,7 1,-11 2,14 1,-9 2,-4 2,7 1,-20 2,17 1,-6 2,-7 2,8 1,17 2,-13 1,-2 2,-7 2,18 1,-16 2,14 1,-2 2,-12 2,-11 1,2 2,18 1,-2 2,-15 2,14 1,-8 2,-4 1,7 2,12 2,-19 1,-7 2,19 1,18 2,-17 2,-6 1,-4 2,-1 1,-3 2,-7 2,21 1,-9 2,-12 1,1 2,-14 2,25 1,9 2,-20 1,-19 2,40 2,1 1,-18 2,-7 1,15 2,-5 2,-15 1,3 2,12 1,8 2,2 2,-11 1,-11 2,4 1,4 2,10 2,-2 1,-11 2,7 1,-15 2,10 2,9 1,11 2,-13 1,7 2,2 2,2 1,-15 2,6 1,2 2,-6 2,-14 1,10 2,3 1,12 2,-6 2,-11 1,-11 2,32 1,-1 2,-15 2,-2 1,4 2,-4 1,8 2,12 2,-8 1,-2 2,6 1,-9 2,5 2,2 1,-22 2,36 1,-19 2,7 2,-9 1,5 2,-5 1,21 2,13 2,-28 1,4 2,-10 1,31 2,-19 2,-2 1,23 2,-11 1,-35 2,45 2,-18 1,17 2,-19 1,4 2,10 2,-14 1,28 2,-22 1,15 2,-21 2,15 1,27 2,-22 1,-8 2,4 2,-4 1,-12 2,9 1,10 2,7 2,6 1,-16 2,-2 1,4 2,-9 2,16 1,-17 2,13 1,2 2,-5 2,1 1,0 2,3 1,22 2,-12 2,-20 1,20 2,-2 1,-2 2,-17 2,12 1,2 2,17 1,-11 2,-5 2,-12 1,15 2,4 1,15 2,-6 2,-16 1,19 2,-2 1,-1 2,-6 2,-12 1,34 2,-33 1,14 2,4 2,-2 1,-22 2,21 1,0 2,-5 2,8 1,-2 2,17 1,-12 2,1 2,9 1,-11 2,-2 1,8 2,-3 2,-3 1,8 2,-7 1,15 2,-8 2,-12 1,0 2,15 1,-6 2,1 2,-11 1,15 2,8 1,-6 2,-5 2,-2 1,9 2,-15 1,8 2,7 2,-7 1,-16 2,30 1,-9 2,-12 2,6 1,-1 2,21 1,0 2,-11 2,3 1,-11 2,-1 1,17 2,-7 2,-15 1,17 2,-8 1,7 2,3 2,-2 1,12 2,-41 1,41 2,4 2,4 1,14 2,-21 1,-4 2,1 2,6 1,-16 2,3 1,-7 2,-4 2,9 1,33 2,-16 1,-4 2,1 2,0 1,-4 2,11 1,-13 2,0 2,5 1,-1 2,4 1,23 2,-23 2,-13 1,16 2,-7 1,4 2,8 2,-7 1,9 2,-6 1,7 2,-21 2,6 1,1 2,7 1,2 2,-3 2,-8 1,13 2,-9 1,10 2,-9 2,8 1,3 2,-1 1,-3 2,-1 2,-2 1,12 2,1 1,-1 2,-5 2,8 1,-10 2,-1 1,5 2,15 2,-10 1,-11 2,10 1,-19 2,28 2,-15 1,5 2,-5 1,15 2,-14 2,4 1,11 2,-1 1,-5 2,-31 2,14 1,8 2,11 1,-6 2,11 2,-4 1,-8 2,-7 1,8 2,2 2,-3 1,7 2,-3 1,6 2,-3 2,-17 1,21 2,-8 1,8 2,7 2,-21 1,12 2,-9 1,21 2,2 2,-17 1,6 2,-8 1,-3 2,1 2,-4 1,11 2,4 1,9 2,-13 2,15 1,-12 2,11 1,-8 2,0 2,-7 1,-2 2,7 1,1 2,-6 2,16 1,-16 2,2 1,3 2,4 2,-4 1,0 2,3 1,-19 2,18 2,9 1,-8 2,6 1,4 2,2 2,-7 1,-9 2,-2 1,9 2,0 2,2 1,-4 2,0 1,0 2,-4 2,13 1,-15 2,5 1,-8 2,11 2,-9 1,3 2,6 1,-7 2,-1 2,19 1,-21 2,-2 1,18 2,-40 2,39 1,-3 2,-7 1,0 2,1 2,-1 1,2 2,2 1,-5 2,10 2,-18 1,20 2,-25 1,19 2,-3 2,-4 1,5 2,-6 1,-1 2,-3 2,12 1,0 2,-13 1,-4 2,13 2,-13 1,10 2,-2 1,-5 2,14 2,-1 1,3 2,-13 1,6 2,-14 2,10 1,-7 2,-2 1,12 2,-4 2,-2 1,-12 2,23 1,2 2,-19 2,5 1,1 2,6 1,-12 2,15 2,-12 1,-3 2,-11 1,22 2,1 2,-6 1,-1 2,15 1,-2 2,-11 2,8 1,-7 2,12 1,-9 2,2 2,-4 1,10 2,-13 1,11 2,-11 2,2 1,0 2,-21 1,23 2,0 2,1 1,-2 2,-8 1,1 2,-2 2,3 1,4 2,-5 1,3 2,-22 2,27 1,-9 2,-4 1,11 2,8 2,-3 1,-23 2,12 1,0 2,8 2,30 1,-33 2,0 1,-6 2,-2 2,7 1,8 2,10 1,-14 2,8 2,-17 1,12 2,-3 1,-9 2,3 2,0 1,4 2,-15 1,0 2,14 2,-3 1,5 2,-23 1,29 2,-10 2,1 1,16 2,-20 1,0 2,17 2,-13 1,9 2,-9 1,-3 2,20 2,-14 1,5 2,-1 1,-2 2,-4 2,-4 1,-16 2,23 1,0 2,-7 2,9 1,0 2,-10 1,-1 2,3 2,-3 1,-2 2,12 1,9 2,-19 2,-9 1,13 2,-2 1,13 2,-6 2,3 1,8 2,-1 1,-15 2,0 2,11 1,-16 2,25 1,-16 2,5 2,-10 1,21 2,-6 1,-12 2,-10 2,40 1,-5 2,3 1,-13 2,-6 2,-4 1,17 2,-2 1,-16 2,3 2,19 1,-10 2,6 1,-6 2,29 2,-32 1,-2 2,2 1,2 2,-7 2,6 1,-4 2,18 1,-14 2,14 2,-21 1,2 2,-2 1,4 2,6 2,8 1,-17 2,15 1,-10 2,4 2,1 1,1 2,-2 1,3 2,-11 2,12 1,8 2,-5 1,-12 2,11 2,4 1,-1 2,-11 1,22 2,-10 2,-18 1,10 2,3 1,6 2,-1 2,-8 1,7 2,-7 1,4 2,13 2,-19 1,6 2,-12 1,29 2,-4 2,-25 1,28 2,-15 1,3 2,6 2,-3 1,5 2,-11 1,5 2,-14 2,11 1,-1 2,8 1,-4 2,-1 2,4 1,8 2,-6 1,4 2,-9 2,6 1,3 2,2 1,-9 2,7 2,0 1,5 2,4 1,-9 2,-10 2,15 1,-8 2,5 1,1 2,0 2,-2 1,-1 2,-1 1,3 2,-8 2,11 1,1 2,0 1,3 2,2 2,-4 1,7 2,-7 1,6 2,-11 2,3 1,-16 2,14 1,-8 2,17 2,-7 1,5 2,-4 1,1 2,13 2,-28 1,18 2,1 1,-6 2,-15 2,20 1,-6 2,8 1,1 2,-2 2,6 1,-17 2,2 1,8 2,-4 2,4 1,4 2,-2 1,5 2,5 2,-13 1,5 2,0 1,-1 2,3 2,-3 1,-2 2,8 1,1 2,-9 2,3 1,1 2,14 1,-21 2,4 2,4 1,-4 2,7 1,-1 2,-1 2,-15 1,17 2,-8 1,14 2,-14 2,13 1,-5 2,-11 1,0 2,15 2,-8 1,12 2,-2 1,3 2,0 2,-11 1,-7 2,14 1,-15 2,2 2,5 1,13 2,-16 1,-3 2,16 2,-5 1,-6 2,4 1,-1 2,19 2,-13 1,1 2,7 1,-9 2,11 2,-13 1,8 2,-22 1,6 2,16 2,3 1,-1 2,3 1,-9 2,-11 2,2 1,17 2,2 1,-3 2,4 2,-11 1,7 2,-4 1,1 2,2 2,-1 1,8 2,-3 1,-6 2,-10 2,0 1,7 2,5 1,-8 2,-1 2,10 1,9 2,-7 1,8 2,-26 2,19 1,-5 2,9 1,-14 2,3 2,4 1,-29 2,15 1,17 2,-4 2,1 1,9 2,-13 1,13 2,0 2,-11 1,-7 2,11 1,-4 2,8 2,-4 1,10 2,-10 1,-1 2,1 2,3 1,-1 2,-11 1,5 2,7 2,-7 1,8 2,0 1,0 2,0 2,1 1,2 2,-9 1,-13 2,23 2,1 1,-2 2,-4 1,-10 2,8 2,5 1,-8 2,12 1,-1 2,-2 2,1 1,1 2,-10 1,5 2,-3 2,7 1,-8 2,1 1,11 2,-9 2,6 1,10 2,-5 1,-9 2,-5 2,7 1,0 2,-8 1,-5 2,23 2,-15 1,14 2,-8 1,8 2,-9 2,2 1,-6 2,9 1,-4 2,-1 2,-5 1,8 2,-4 1,14 2,-21 2,10 1,10 2,-9 1,-26 2,29 2,-1 1,-10 2,11 1,6 2,-5 2,3 1,-7 2,1 1,-1 2,10 2,-1 1,-6 2,-4 1,4 2,1 2,-9 1,13 2,-11 1,3 2,-4 2,5 1,-3 2,1 1,5 2,-10 2,21 1,-14 2,5 1,-5 2,-5 2,6 1,-8 2,12 1,3 2,10 2,-12 1,-9 2,8 1,1 2,0 2,-8 1,8 2,-9 1,8 2,-10 2,7 1,4 2,-1 1,3 2,2 2,-10 1,3 2,-3 1,6 2,7 2,-9 1,-16 2,23 1,-6 2,1 2,-13 1,15 2,-6 1,2 2,9 2,-10 1,13 2,-13 1,7 2,11 2,-14 1,3 2,-2 1,-11 2,6 2,4 1,-1 2,3 1,0 2,-6 2,-3 1,2 2,-6 1,3 2,7 2,-2 1,-1 2,7 1,-7 2,-16 2,27 1,-17 2,8 1,11 2,-10 2,-11 1,17 2,-3 1,6 2,-1 2,0 1,-7 2,6 1,-10 2,14 2,-11 1,-8 2,27 1,-22 2,8 2,-7 1,12 2,-3 1,-11 2,5 2,5 1,25 2,-25 1,-3 2,0 2,-2 1,9 2,-7 1,9 2,-7 2,2 1,-5 2,15 1,-20 2,17 2,-7 1,-7 2,5 1,1 2,-2 2,5 1,1 2,-12 1,3 2,5 2,-2 1,-14 2,17 1,7 2,3 2,-21 1,11 2,2 1,-2 2,12 2,-13 1,2 2,3 1,-5 2,9 2,-15 1,3 2,5 1,0 2,-3 2,2 1,0 2,8 1,1 2,-2 2,-7 1,3 2,-2 1,-4 2,10 2,-4 1,5 2,-3 1,-12 2,9 2,-5 1,2 2,1 1,-6 2,3 2,14 1,-13 2,3 1,1 2,-4 2,6 1,7 2,-13 1,8 2,-7 2,-7 1,13 2,-6 1,6 2,-3 2,6 1,-7 2,2 1,0 2,1 2,0 1,5 2,2 1,-7 2,-2 2,6 1,-6 2,-7 1,9 2,6 2,0 1,7 2,-20 1,18 2,-19 2,32 1,-27 2,3 1,10 2,-11 2,5 1,-3 2,-15 1,12 2,4 2,-3 1,3 2,-3 1,10 2,-4 2,13 1,-11 2,5 1,-6 2,0 2,-5 1,1 2,-5 1,11 2,-8 2,2 1,1 2,-3 1,4 2,9 2,-2 1,-1 2,2 1,-11 2,8 2,-16 1,7 2,-3 1,3 2,-8 2,17 1,-17 2,16 1,7 2,-14 2,-2 1,3 2,-4 1,8 2,-5 2,18 1,-15 2,0 1,-1 2,10 2,-4 1,8 2,-12 1,-4 2,9 2,-7 1,8 2,0 1,5 2,-8 2,-7 1,7 2,-7 1,1 2,10 2,-10 1,1 2,3 1,3 2,-4 2,-4 1,12 2,-14 1,0 2,10 2,-1 1,5 2,-8 1,5 2,-4 2,4 1,1 2,-11 1,11 2,-8 2,1 1,3 2,4 1,-2 2,0 2,2 1,0 2,0 1,10 2,-2 2,-11 1,12 2,-16 1,4 2,4 2,-4 1,5 2,-6 1,7 2,-4 2,-3 1,5 2,8 1,-2 2,0 2,-11 1,2 2,0 1,-3 2,-6 2,-2 1,-1 2,12 1,-1 2,3 2,-5 1,3 2,8 1,3 2,-3 2,-4 1,-14 2,8 1,3 2,2 2,-1 1,-1 2,0 1,-7 2,11 2,9 1,-9 2,-2 1,-23 2,20 2,1 1,2 2,1 1,6 2,-5 2,4 1,1 2,-11 1,-12 2,17 2,0 1,-1 2,1 1,-3 2,-8 2,8 1,0 2,9 1,-3 2,-15 2,7 1,0 2,-5 1,7 2,2 2,10 1,-3 2,-5 1,-1 2,2 2,1 1,-5 2,12 1,-13 2,9 2,-13 1,8 2,-1 1,-3 2,11 2,-4 1,9 2,-14 1,2 2,-14 2,12 1,1 2,14 1,-14 2,7 2,-4 1,-5 2,2 1,6 2,3 2,-4 1,-6 2,6 1,-1 2,-7 2,-5 1,8 2,2 1,3 2,3 2,3 1,-30 2,21 1,-3 2,3 2,7 1,-6 2,-7 1,16 2,-3 2,-4 1,-11 2,12 1,-5 2,3 2,-1 1,1 2,7 1,-9 2,3 2,5 1,-11 2,4 1,-36 2,23 2,5 1,5 2,6 1,-13 2,8 2,-1 1,-11 2,18 1,-1 2,6 2,-18 1,8 2,-4 1,4 2,7 2,0 1,-19 2,14 1,2 2,-2 2,-7 1,-4 2,10 1,1 2,-4 2,4 1,-1 2,6 1,-20 2,20 2,-10 1,4 2,-4 1,1 2,21 2,-24 1,4 2,4 1,-5 2,3 2,-7 1,0 2,19 1,-9 2,4 2,-23 1,12 2,-1 1,10 2,-4 2,0 1,-5 2,6 1,3 2,3 2,-13 1,0 2,10 1,7 2,-20 2,16 1,-1 2,-10 1,-1 2,15 2,-1 1,-11 2,5 1,0 2,-5 2,5 1,3 2,-6 1,10 2,-8 2,-7 1,0 2,11 1,-4 2,-1 2,-17 1,17 2,7 1,-9 2,10 2,-8 1,-1 2,1 1,3 2,-1 2,0 1,2 2,6 1,-10 2,10 2,-9 1,6 2,-1 1,-8 2,2 2,-4 1,11 2,-1 1,-3 2,-5 2,0 1,2 2,-7 1,5 2,-3 2,6 1,-11 2,19 1,-8 2,4 2,2 1,-4 2,-3 1,12 2,-12 2,-3 1,5 2,9 1,-11 2,4 2,-1 1,1 2,11 1,-15 2,2 2,-1 1,-4 2,16 1,-10 2,0 2,4 1,-18 2,7 1,7 2,5 2,-14 1,11 2,-10 1,9 2,-7 2,3 1,-4 2,13 1,-8 2,-5 2,4 1,14 2,-10 1,11 2,-13 2,-16 1,19 2,2 1,5 2,1 2,-7 1,-5 2,7 1,0 2,-17 2,6 1,12 2,-10 1,0 2,5 2,-7 1,1 2,11 1,2 2,2 2,-9 1,-10 2,13 1,0 2,-9 2,1 1,-3 2,9 1,-5 2,3 2,2 1,8 2,-13 1,11 2,-3 2,2 1,-8 2,3 1,-5 2,7 2,-6 1,0 2,3 1,0 2,-4 2,2 1,3 2,-5 1,1 2,0 2,-4 1,-2 2,11 1,-5 2,-1 2,5 1,3 2,-6 1,-4 2,3 2,3 1,2 2,-2 1,5 2,-1 2,-2 1,-3 2,3 1,0 2,-7 2,3 1,-7 2,5 1,3 2,3 2,-5 1,-4 2,9 1,-6 2,8 2,-12 1,10 2,-5 1,-1 2,7 2,-5 1,1 2,-4 1,4 2,7 2,0 1,-4 2,4 1,1 2,-15 2,1 1,11 2,-6 1,-8 2,19 2,-2 1,-8 2,16 1,-26 2,9 2,2 1,4 2,-8 1,10 2,-2 2,-3 1,-2 2,1 1,3 2,-8 2,9 1,0 2,-14 1,15 2,4 2,-10 1,8 2,4 1,-15 2,9 2,-7 1,8 2,-3 1,-2 2,-9 2,5 1,9 2,-2 1,5 2,-14 2,6 1,-6 2,2 1,4 2,5 2,-8 1,12 2,-6 1,-6 2,-1 2,10 1,-8 2,5 1,1 2,-5 2,7 1,-2 2,-16 1,7 2,8 2,2 1,-9 2,-2 1,5 2,-6 2,9 1,-4 2,-2 1,15 2,-13 2,3 1,0 2,6 1,-3 2,1 2,-9 1,-2 2,14 1,-6 2,0 2,1 1,1 2,9 1,-14 2,8 2,-6 1,4 2,9 1,-12 2,-8 2,12 1,0 2,-13 1,13 2,-4 2,1 1,-4 2,11 1,-1 2,-8 2,1 1,1 2,-2 1,5 2,-4 2,-2 1,2 2,-3 1,6 2,-6 2,6 1,2 2,-5 1,4 2,5 2,-16 1,6 2,-3 1,10 2,-3 2,-6 1,-11 2,13 1,-6 2,7 2,-4 1,9 2,-4 1,6 2,-6 2,3 1,-2 2,-7 1,12 2,-8 2,11 1,-2 2,-9 1,0 2,3 2,-17 1,15 2,-4 1,-9 2,21 2,-11 1,3 2,13 1,-19 2,6 2,-3 1,-1 2,0 1,4 2,5 2,3 1,-11 2,11 1,-10 2,4 2,10 1,-20 2,5 1,-2 2,8 2,-4 1,3 2,6 1,-11 2,0 2,2 1,-17 2,15 1,6 2,-1 2,-6 1,8 2,0 1,2 2,-11 2,5 1,8 2,-15 1,12 2,-2 2,-6 1,10 2,0 1,-5 2,-1 2,7 1,-5 2,27 1,-30 2,3 2,-4 1,3 2,9 1,-7 2,-6 2,9 1,-1 2,-4 1,-6 2,8 2,-5 1,8 2,0 1,3 2,-4 2,0 1,-6 2,12 1,-16 2,19 2,-17 1,0 2,4 1,7 2,-7 2,-6 1,9 2,-4 1,-1 2,2 2,2 1,-3 2,0 1,0 2,-8 2,4 1,-2 2,7 1,-2 2,1 2,-2 1,5 2,-4 1,6 2,-4 2,-2 1,0 2,-2 1,3 2,4 2,-4 1,5 2,0 1,-11 2,2 2,3 1,-16 2,16 1,8 2,-6 2,-11 1,9 2,4 1,1 2,2 2,-11 1,8 2,-8 1,6 2,8 2,-12 1,2 2,-6 1,7 2,-3 2,4 1,-1 2,-2 1,-1 2,2 2,13 1,-4 2,-3 1,-15 2,2 2,12 1,-9 2,6 1,-6 2,0 2,4 1,5 2,2 1,-11 2,6 2,-8 1,-3 2,7 1,-4 2,11 2,-2 1,-6 2,3 1,6 2,-10 2,5 1,-2 2,3 1,-6 2,2 2,5 1,3 2,-4 1,-2 2,-2 2,4 1,1 2,5 1,-4 2,-2 2,4 1,-13 2,5 1,-4 2,11 2,-3 1,-4 2,4 1,-4 2,13 2,-17 1,7 2,-5 1,3 2,7 2,-1 1,-5 2,3 1,5 2,-9 2,-6 1,6 2,2 1,5 2,-9 2,5 1,3 2,-2 1,-1 2,8 2,-5 1,-11 2,12 1,-4 2,-10 2,0 1,13 2,-5 1,5 2,-10 2,15 1,-14 2,10 1,0 2,-8 2,8 1,4 2,0 1,-2 2,11 2,-16 1,5 2,-7 1,2 2,7 2,-7 1,7 2,-15 1,6 2,-1 2,0 1,7 2,6 1,-12 2,8 2,-4 1,-2 2,0 1,4 2,-11 2,7 1,1 2,1 1,0 2,0 2,-1 1,-1 2,-3 1,-9 2,1 2,9 1,3 2,11 1,2 2,1 2,-10 1,-5 2,-1 1,2 2,-7 2,3 1,-4 2,13 1,-5 2,3 2,-11 1,4 2,12 1,-9 2,3 2,4 1,-6 2,0 1,-2 2,-5 2,8 1,-14 2,8 1,7 2,5 2,-9 1,0 2,4 1,-5 2,-4 2,-10 1,2 2,13 1,2 2,-3 2,-1 1,6 2,9 1,-11 2,1 2,-4 1,3 2,-15 1,22 2,-5 2,-2 1,-4 2,16 1,-8 2,-2 2,-8 1,12 2,-8 1,2 2,-5 2,10 1,-10 2,14 1,-30 2,26 2,-4 1,0 2,4 1,-5 2,8 2,-8 1,1 2,1 1,-8 2,13 2,-7 1,0 2,-6 1,8 2,-4 2,-2 1,6 2,-2 1,6 2,-2 2,1 1,-4 2,10 1,-8 2,-9 2,13 1,-6 2,-1 1,-4 2,13 2,-9 1,6 2,-8 1,5 2,-7 2,17 1,-19 2,7 1,2 2,-2 2,-5 1,-3 2,6 1,7 2,-1 2,4 1,-11 2,4 1,-1 2,0"/>
</g>
<rect x="51" y="7.8" width="484.7" height="360.8" fill="none" stroke="#262626" stroke-width="1.7"/>
<g stroke="#262626" stroke-width="1.6">
<line x1="83.3" y1="368.6" x2="83.3" y2="376.2"/>
<line x1="115.6" y1="368.6" x2="115.6" y2="372.8"/>
<line x1="147.9" y1="368.6" x2="147.9" y2="376.2"/>
<line x1="180.3" y1="368.6" x2="180.3" y2="372.8"/>
<line x1="212.6" y1="368.6" x2="212.6" y2="376.2"/>
<line x1="244.9" y1="368.6" x2="244.9" y2="372.8"/>
<line x1="277.2" y1="368.6" x2="277.2" y2="376.2"/>
<line x1="309.5" y1="368.6" x2="309.5" y2="372.8"/>
<line x1="341.8" y1="368.6" x2="341.8" y2="376.2"/>
<line x1="374.1" y1="368.6" x2="374.1" y2="372.8"/>
<line x1="406.4" y1="368.6" x2="406.4" y2="376.2"/>
<line x1="438.8" y1="368.6" x2="438.8" y2="372.8"/>
<line x1="471.1" y1="368.6" x2="471.1" y2="376.2"/>
<line x1="503.4" y1="368.6" x2="503.4" y2="372.8"/>
<line x1="535.7" y1="368.6" x2="535.7" y2="376.2"/>
<line x1="51" y1="368.6" x2="51" y2="373.4"/>
</g>
<text x="83.3" y="394.5" text-anchor="middle" font-size="18" stroke="#000" stroke-width="0.25">10</text>
<text x="147.9" y="394.5" text-anchor="middle" font-size="18" stroke="#000" stroke-width="0.25">20</text>
<text x="212.6" y="394.5" text-anchor="middle" font-size="18" stroke="#000" stroke-width="0.25">30</text>
<text x="277.2" y="394.5" text-anchor="middle" font-size="18" stroke="#000" stroke-width="0.25">40</text>
<text x="341.8" y="394.5" text-anchor="middle" font-size="18" stroke="#000" stroke-width="0.25">50</text>
<text x="406.4" y="394.5" text-anchor="middle" font-size="18" stroke="#000" stroke-width="0.25">60</text>
<text x="471.1" y="394.5" text-anchor="middle" font-size="18" stroke="#000" stroke-width="0.25">70</text>
<text x="535.7" y="394.5" text-anchor="middle" font-size="18" stroke="#000" stroke-width="0.25">80</text>
<g stroke="#000" stroke-width="0.25">
<text x="431.2" y="123.8" font-size="17.5" textLength="91.6" lengthAdjust="spacingAndGlyphs">POSS-PI-30</text>
<text x="431.2" y="170.3" font-size="17.5" textLength="91.6" lengthAdjust="spacingAndGlyphs">POSS-PI-25</text>
<text x="430.6" y="212.0" font-size="17.5" textLength="91.8" lengthAdjust="spacingAndGlyphs">POSS-PI-20</text>
<text x="430.4" y="257.1" font-size="17.5" textLength="92" lengthAdjust="spacingAndGlyphs">POSS-PI-15</text>
<text x="429.8" y="299.5" font-size="17.5" textLength="99.8" lengthAdjust="spacingAndGlyphs">POSS-PI-10</text>
<text x="437.1" y="339.6" font-size="17.5" textLength="91.5" lengthAdjust="spacingAndGlyphs">TSP-POSS</text>
<text transform="translate(16.0,229.8) rotate(-90)" font-size="17.5" textLength="81" lengthAdjust="spacingAndGlyphs">Intensity</text>
<text x="268.6" y="436.4" font-size="18">2</text>
<text x="279.9" y="436.4" font-size="17" font-weight="normal" stroke-width="0.1" textLength="8.2" lengthAdjust="spacingAndGlyphs">&#952;</text>
<text x="294.6" y="436.4" font-size="18">(</text>
<text x="301.6" y="426.3" font-size="12.5" stroke-width="0.4">o</text>
<text x="312.2" y="436.4" font-size="18">)</text>
</g>
</svg>
</body></html>
